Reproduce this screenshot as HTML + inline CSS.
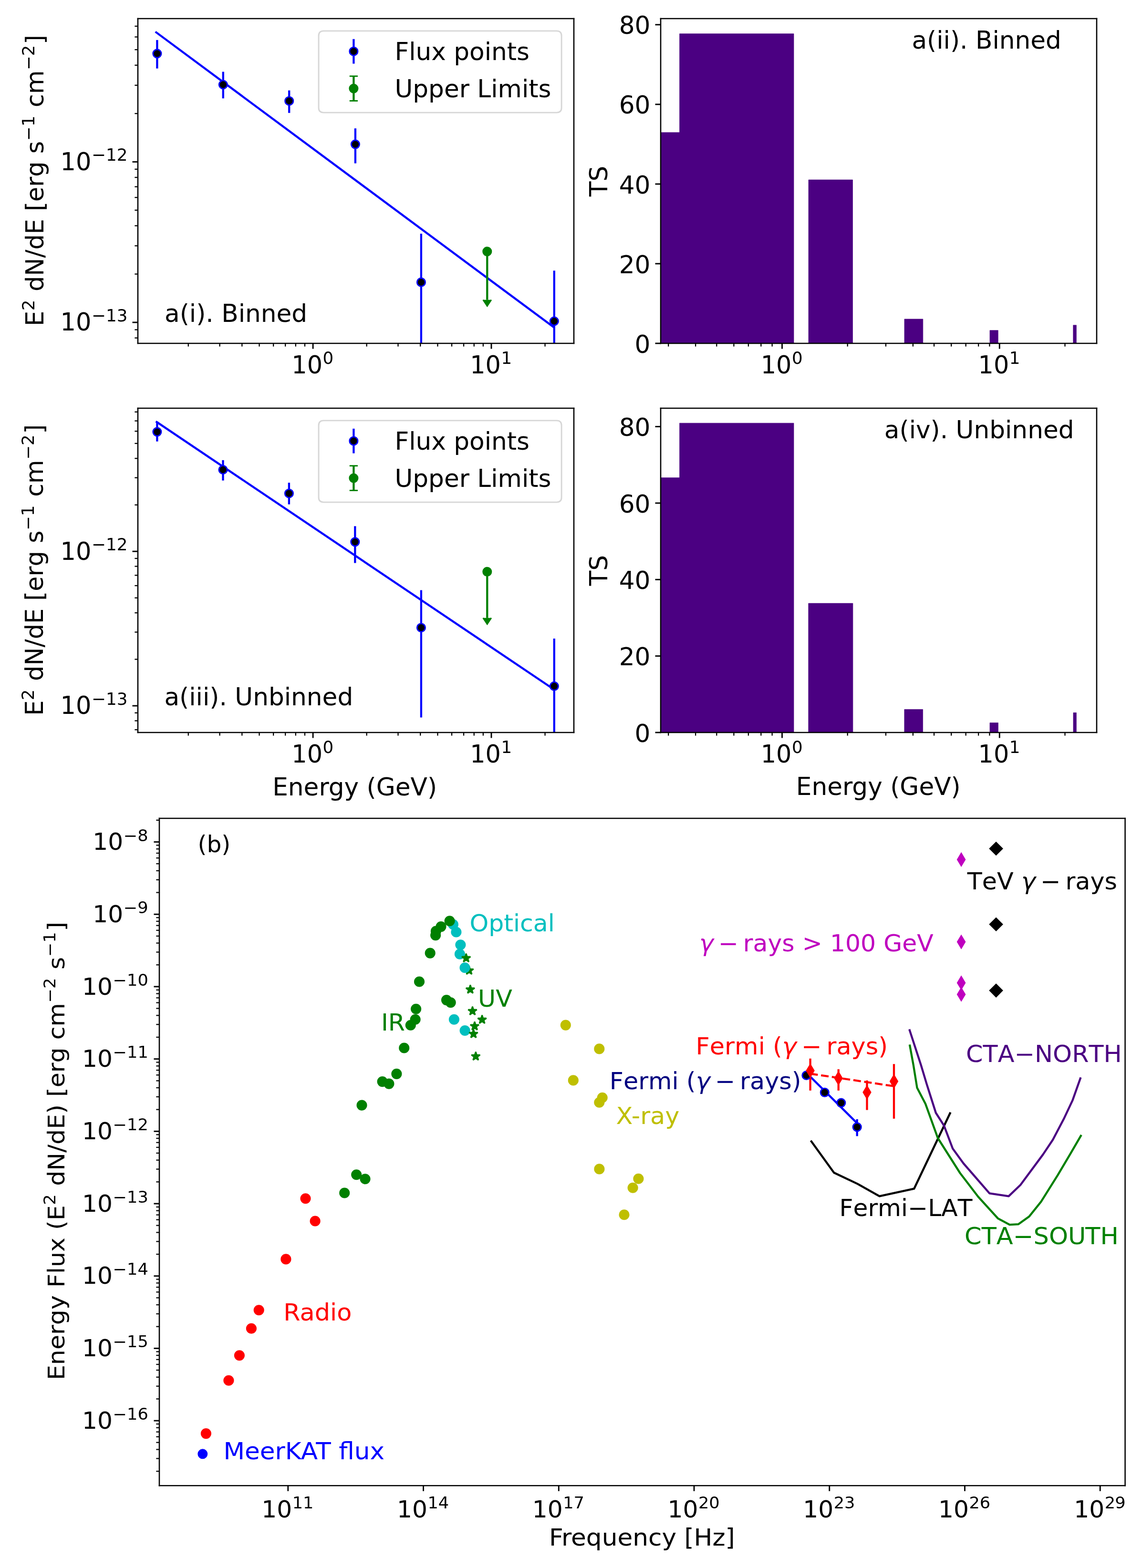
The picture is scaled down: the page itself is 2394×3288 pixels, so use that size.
<!DOCTYPE html>
<html><head><meta charset="utf-8"><title>SED figure</title>
<style>
html,body{margin:0;padding:0;background:#fff;}
body{width:2394px;height:3288px;overflow:hidden;}
svg{display:block;}
svg text{font-family:"DejaVu Sans",sans-serif;}
</style></head><body>
<svg width="2394" height="3288" viewBox="0 0 833.56546 1144.846797" version="1.1">
<defs>
<style type="text/css">*{stroke-linejoin: round; stroke-linecap: butt}</style>
</defs>
<g id="figure_1">
<g id="patch_1">
<path d="M 0 1144.846797 L 833.56546 1144.846797 L 833.56546 0 L 0 0 z
" style="fill: #ffffff"/>
</g>
<g id="axes_1">
<g id="patch_2">
<path d="M 100.626741 250.696379 L 418.871866 250.696379 L 418.871866 13.579387 L 100.626741 13.579387 z
" style="fill: #ffffff"/>
</g>
<g id="matplotlib.axis_1">
<g id="xtick_1">
<g id="line2d_1">
<defs>
<path id="m38d85b45bb" d="M 0 0 L 0 4 " style="stroke: #000000"/>
</defs>
<g>
<use href="#m38d85b45bb" x="228.447075" y="250.696379" style="stroke: #000000"/>
</g>
</g>
<g id="A1x2" transform="translate(228.4471 259.7664) scale(0.985 1) translate(-228.4471 -259.7664)">
<g transform="translate(212.607075 273.443566)">
<text>
<tspan x="0" y="-0.757812" style="font-size: 18px; font-family: 'DejaVu Sans'">1</tspan>
<tspan x="11.452148" y="-0.757812" style="font-size: 18px; font-family: 'DejaVu Sans'">0</tspan>
<tspan x="23.076563" y="-7.648438" style="font-size: 12.6px; font-family: 'DejaVu Sans'">0</tspan>
</text>
</g>
</g>
</g>
<g id="xtick_2">
<g id="line2d_2">
<g>
<use href="#m38d85b45bb" x="358.635097" y="250.696379" style="stroke: #000000"/>
</g>
</g>
<g id="A1x3" transform="translate(358.6351 259.7664) scale(0.985 1) translate(-358.6351 -259.7664)">
<g transform="translate(342.795097 273.443566)">
<text>
<tspan x="0" y="-0.921875" style="font-size: 18px; font-family: 'DejaVu Sans'">1</tspan>
<tspan x="11.452148" y="-0.921875" style="font-size: 18px; font-family: 'DejaVu Sans'">0</tspan>
<tspan x="23.076563" y="-7.8125" style="font-size: 12.6px; font-family: 'DejaVu Sans'">1</tspan>
</text>
</g>
</g>
</g>
<g id="xtick_3">
<g id="line2d_3">
<defs>
<path id="m9a15c4e974" d="M 0 0 L 0 2.3 " style="stroke: #000000; stroke-width: 0.8"/>
</defs>
<g>
<use href="#m9a15c4e974" x="137.449553" y="250.696379" style="stroke: #000000; stroke-width: 0.8"/>
</g>
</g>
</g>
<g id="xtick_4">
<g id="line2d_4">
<g>
<use href="#m9a15c4e974" x="160.374525" y="250.696379" style="stroke: #000000; stroke-width: 0.8"/>
</g>
</g>
</g>
<g id="xtick_5">
<g id="line2d_5">
<g>
<use href="#m9a15c4e974" x="176.640052" y="250.696379" style="stroke: #000000; stroke-width: 0.8"/>
</g>
</g>
</g>
<g id="xtick_6">
<g id="line2d_6">
<g>
<use href="#m9a15c4e974" x="189.256575" y="250.696379" style="stroke: #000000; stroke-width: 0.8"/>
</g>
</g>
</g>
<g id="xtick_7">
<g id="line2d_7">
<g>
<use href="#m9a15c4e974" x="199.565025" y="250.696379" style="stroke: #000000; stroke-width: 0.8"/>
</g>
</g>
</g>
<g id="xtick_8">
<g id="line2d_8">
<g>
<use href="#m9a15c4e974" x="208.280695" y="250.696379" style="stroke: #000000; stroke-width: 0.8"/>
</g>
</g>
</g>
<g id="xtick_9">
<g id="line2d_9">
<g>
<use href="#m9a15c4e974" x="215.830552" y="250.696379" style="stroke: #000000; stroke-width: 0.8"/>
</g>
</g>
</g>
<g id="xtick_10">
<g id="line2d_10">
<g>
<use href="#m9a15c4e974" x="222.489998" y="250.696379" style="stroke: #000000; stroke-width: 0.8"/>
</g>
</g>
</g>
<g id="xtick_11">
<g id="line2d_11">
<g>
<use href="#m9a15c4e974" x="267.637575" y="250.696379" style="stroke: #000000; stroke-width: 0.8"/>
</g>
</g>
</g>
<g id="xtick_12">
<g id="line2d_12">
<g>
<use href="#m9a15c4e974" x="290.562548" y="250.696379" style="stroke: #000000; stroke-width: 0.8"/>
</g>
</g>
</g>
<g id="xtick_13">
<g id="line2d_13">
<g>
<use href="#m9a15c4e974" x="306.828075" y="250.696379" style="stroke: #000000; stroke-width: 0.8"/>
</g>
</g>
</g>
<g id="xtick_14">
<g id="line2d_14">
<g>
<use href="#m9a15c4e974" x="319.444598" y="250.696379" style="stroke: #000000; stroke-width: 0.8"/>
</g>
</g>
</g>
<g id="xtick_15">
<g id="line2d_15">
<g>
<use href="#m9a15c4e974" x="329.753048" y="250.696379" style="stroke: #000000; stroke-width: 0.8"/>
</g>
</g>
</g>
<g id="xtick_16">
<g id="line2d_16">
<g>
<use href="#m9a15c4e974" x="338.468718" y="250.696379" style="stroke: #000000; stroke-width: 0.8"/>
</g>
</g>
</g>
<g id="xtick_17">
<g id="line2d_17">
<g>
<use href="#m9a15c4e974" x="346.018575" y="250.696379" style="stroke: #000000; stroke-width: 0.8"/>
</g>
</g>
</g>
<g id="xtick_18">
<g id="line2d_18">
<g>
<use href="#m9a15c4e974" x="352.67802" y="250.696379" style="stroke: #000000; stroke-width: 0.8"/>
</g>
</g>
</g>
<g id="xtick_19">
<g id="line2d_19">
<g>
<use href="#m9a15c4e974" x="397.825597" y="250.696379" style="stroke: #000000; stroke-width: 0.8"/>
</g>
</g>
</g>
</g>
<g id="matplotlib.axis_2">
<g id="ytick_1">
<g id="line2d_20">
<defs>
<path id="mb89d10049e" d="M 0 0 L -4 0 " style="stroke: #000000"/>
</defs>
<g>
<use href="#mb89d10049e" x="100.626741" y="235.376045" style="stroke: #000000"/>
</g>
</g>
<g id="A1y2" transform="translate(93.6467 237.2478) scale(0.987 1) translate(-93.6467 -237.2478)">
<g transform="translate(43.426741 242.214638)">
<text>
<tspan x="0" y="-0.757812" style="font-size: 18px; font-family: 'DejaVu Sans'">1</tspan>
<tspan x="11.452148" y="-0.757812" style="font-size: 18px; font-family: 'DejaVu Sans'">0</tspan>
<tspan x="23.076563" y="-7.648438" style="font-size: 12.6px; font-family: 'DejaVu Sans'">−</tspan>
<tspan x="33.633984" y="-7.648438" style="font-size: 12.6px; font-family: 'DejaVu Sans'">1</tspan>
<tspan x="41.650488" y="-7.648438" style="font-size: 12.6px; font-family: 'DejaVu Sans'">3</tspan>
</text>
</g>
</g>
</g>
<g id="ytick_2">
<g id="line2d_21">
<g>
<use href="#mb89d10049e" x="100.626741" y="118.175487" style="stroke: #000000"/>
</g>
</g>
<g id="A1y3" transform="translate(93.6467 120.0472) scale(0.987 1) translate(-93.6467 -120.0472)">
<g transform="translate(43.426741 125.014081)">
<text>
<tspan x="0" y="-0.757812" style="font-size: 18px; font-family: 'DejaVu Sans'">1</tspan>
<tspan x="11.452148" y="-0.757812" style="font-size: 18px; font-family: 'DejaVu Sans'">0</tspan>
<tspan x="23.076563" y="-7.648438" style="font-size: 12.6px; font-family: 'DejaVu Sans'">−</tspan>
<tspan x="33.633984" y="-7.648438" style="font-size: 12.6px; font-family: 'DejaVu Sans'">1</tspan>
<tspan x="41.650488" y="-7.648438" style="font-size: 12.6px; font-family: 'DejaVu Sans'">2</tspan>
</text>
</g>
</g>
</g>
<g id="ytick_3">
<g id="line2d_22">
<defs>
<path id="m31b53ba5bc" d="M 0 0 L -2.3 0 " style="stroke: #000000; stroke-width: 0.8"/>
</defs>
<g>
<use href="#m31b53ba5bc" x="100.626741" y="246.733952" style="stroke: #000000; stroke-width: 0.8"/>
</g>
</g>
</g>
<g id="ytick_4">
<g id="line2d_23">
<g>
<use href="#m31b53ba5bc" x="100.626741" y="240.738848" style="stroke: #000000; stroke-width: 0.8"/>
</g>
</g>
</g>
<g id="ytick_5">
<g id="line2d_24">
<g>
<use href="#m31b53ba5bc" x="100.626741" y="200.095161" style="stroke: #000000; stroke-width: 0.8"/>
</g>
</g>
</g>
<g id="ytick_6">
<g id="line2d_25">
<g>
<use href="#m31b53ba5bc" x="100.626741" y="179.457168" style="stroke: #000000; stroke-width: 0.8"/>
</g>
</g>
</g>
<g id="ytick_7">
<g id="line2d_26">
<g>
<use href="#m31b53ba5bc" x="100.626741" y="164.814278" style="stroke: #000000; stroke-width: 0.8"/>
</g>
</g>
</g>
<g id="ytick_8">
<g id="line2d_27">
<g>
<use href="#m31b53ba5bc" x="100.626741" y="153.456371" style="stroke: #000000; stroke-width: 0.8"/>
</g>
</g>
</g>
<g id="ytick_9">
<g id="line2d_28">
<g>
<use href="#m31b53ba5bc" x="100.626741" y="144.176285" style="stroke: #000000; stroke-width: 0.8"/>
</g>
</g>
</g>
<g id="ytick_10">
<g id="line2d_29">
<g>
<use href="#m31b53ba5bc" x="100.626741" y="136.330083" style="stroke: #000000; stroke-width: 0.8"/>
</g>
</g>
</g>
<g id="ytick_11">
<g id="line2d_30">
<g>
<use href="#m31b53ba5bc" x="100.626741" y="129.533395" style="stroke: #000000; stroke-width: 0.8"/>
</g>
</g>
</g>
<g id="ytick_12">
<g id="line2d_31">
<g>
<use href="#m31b53ba5bc" x="100.626741" y="123.538291" style="stroke: #000000; stroke-width: 0.8"/>
</g>
</g>
</g>
<g id="ytick_13">
<g id="line2d_32">
<g>
<use href="#m31b53ba5bc" x="100.626741" y="82.894604" style="stroke: #000000; stroke-width: 0.8"/>
</g>
</g>
</g>
<g id="ytick_14">
<g id="line2d_33">
<g>
<use href="#m31b53ba5bc" x="100.626741" y="62.256611" style="stroke: #000000; stroke-width: 0.8"/>
</g>
</g>
</g>
<g id="ytick_15">
<g id="line2d_34">
<g>
<use href="#m31b53ba5bc" x="100.626741" y="47.613721" style="stroke: #000000; stroke-width: 0.8"/>
</g>
</g>
</g>
<g id="ytick_16">
<g id="line2d_35">
<g>
<use href="#m31b53ba5bc" x="100.626741" y="36.255814" style="stroke: #000000; stroke-width: 0.8"/>
</g>
</g>
</g>
<g id="ytick_17">
<g id="line2d_36">
<g>
<use href="#m31b53ba5bc" x="100.626741" y="26.975727" style="stroke: #000000; stroke-width: 0.8"/>
</g>
</g>
</g>
<g id="ytick_18">
<g id="line2d_37">
<g>
<use href="#m31b53ba5bc" x="100.626741" y="19.129526" style="stroke: #000000; stroke-width: 0.8"/>
</g>
</g>
</g>
</g>
<g id="line2d_38">
<path d="M 114.032033 23.642061 L 404.004178 238.788301 " clip-path="url(#p60db7b7a0c)" style="fill: none; stroke: #0000ff; stroke-width: 1.5; stroke-linecap: square"/>
</g>
<g id="LineCollection_1">
<path d="M 114.693593 50 L 114.693593 29.213092 " clip-path="url(#p60db7b7a0c)" style="fill: none; stroke: #0000ff; stroke-width: 1.5"/>
<path d="M 162.883008 71.831476 L 162.883008 52.402507 " clip-path="url(#p60db7b7a0c)" style="fill: none; stroke: #0000ff; stroke-width: 1.5"/>
<path d="M 211.072423 82.451253 L 211.072423 66.016713 " clip-path="url(#p60db7b7a0c)" style="fill: none; stroke: #0000ff; stroke-width: 1.5"/>
<path d="M 259.366295 119.254875 L 259.366295 93.732591 " clip-path="url(#p60db7b7a0c)" style="fill: none; stroke: #0000ff; stroke-width: 1.5"/>
<path d="M 307.416435 1145.846797 L 307.416435 170.612813 " clip-path="url(#p60db7b7a0c)" style="fill: none; stroke: #0000ff; stroke-width: 1.5"/>
<path d="M 404.526462 1145.846797 L 404.526462 197.597493 " clip-path="url(#p60db7b7a0c)" style="fill: none; stroke: #0000ff; stroke-width: 1.5"/>
</g>
<g id="LineCollection_2">
<path d="M 355.60585 218.906685 L 355.60585 183.635097 " clip-path="url(#p60db7b7a0c)" style="fill: none; stroke: #008000; stroke-width: 1.5"/>
</g>
<g id="line2d_39">
<defs>
<path id="m8b561483a8" d="M -3 0 L 0 4.5 L 3 0 " style="stroke: #008000; stroke-linejoin: miter"/>
</defs>
<g clip-path="url(#p60db7b7a0c)">
<use href="#m8b561483a8" x="355.60585" y="218.906685" style="fill: #008000; stroke: #008000; stroke-linejoin: miter"/>
</g>
</g>
<g id="line2d_40">
<defs>
<path id="m66f33df991" d="M 3 0 L -3 -0 " style="stroke: #008000"/>
</defs>
<g clip-path="url(#p60db7b7a0c)">
<use href="#m66f33df991" x="355.60585" y="183.635097" style="fill: #008000; stroke: #008000"/>
</g>
</g>
<g id="line2d_41">
<defs>
<path id="m3a547c31ff" d="M 0 3 C 0.795609 3 1.55874 2.683901 2.12132 2.12132 C 2.683901 1.55874 3 0.795609 3 0 C 3 -0.795609 2.683901 -1.55874 2.12132 -2.12132 C 1.55874 -2.683901 0.795609 -3 0 -3 C -0.795609 -3 -1.55874 -2.683901 -2.12132 -2.12132 C -2.683901 -1.55874 -3 -0.795609 -3 0 C -3 0.795609 -2.683901 1.55874 -2.12132 2.12132 C -1.55874 2.683901 -0.795609 3 0 3 z
" style="stroke: #0000ff"/>
</defs>
<g clip-path="url(#p60db7b7a0c)">
<use href="#m3a547c31ff" x="114.693593" y="39.13649" style="stroke: #0000ff"/>
<use href="#m3a547c31ff" x="162.883008" y="61.803621" style="stroke: #0000ff"/>
<use href="#m3a547c31ff" x="211.072423" y="73.711699" style="stroke: #0000ff"/>
<use href="#m3a547c31ff" x="259.366295" y="105.362117" style="stroke: #0000ff"/>
<use href="#m3a547c31ff" x="307.416435" y="206.093315" style="stroke: #0000ff"/>
<use href="#m3a547c31ff" x="404.526462" y="234.505571" style="stroke: #0000ff"/>
</g>
</g>
<g id="line2d_42">
<defs>
<path id="maef9e21243" d="M 0 3 C 0.795609 3 1.55874 2.683901 2.12132 2.12132 C 2.683901 1.55874 3 0.795609 3 0 C 3 -0.795609 2.683901 -1.55874 2.12132 -2.12132 C 1.55874 -2.683901 0.795609 -3 0 -3 C -0.795609 -3 -1.55874 -2.683901 -2.12132 -2.12132 C -2.683901 -1.55874 -3 -0.795609 -3 0 C -3 0.795609 -2.683901 1.55874 -2.12132 2.12132 C -1.55874 2.683901 -0.795609 3 0 3 z
" style="stroke: #008000"/>
</defs>
<g clip-path="url(#p60db7b7a0c)">
<use href="#maef9e21243" x="355.60585" y="183.635097" style="fill: #008000; stroke: #008000"/>
</g>
</g>
<g id="patch_3">
<path d="M 100.626741 250.696379 L 100.626741 13.579387 " style="fill: none; stroke: #000000; stroke-width: 0.9; stroke-linejoin: miter; stroke-linecap: square"/>
</g>
<g id="patch_4">
<path d="M 418.871866 250.696379 L 418.871866 13.579387 " style="fill: none; stroke: #000000; stroke-width: 0.9; stroke-linejoin: miter; stroke-linecap: square"/>
</g>
<g id="patch_5">
<path d="M 100.626741 250.696379 L 418.871866 250.696379 " style="fill: none; stroke: #000000; stroke-width: 0.9; stroke-linejoin: miter; stroke-linecap: square"/>
</g>
<g id="patch_6">
<path d="M 100.626741 13.579387 L 418.871866 13.579387 " style="fill: none; stroke: #000000; stroke-width: 0.9; stroke-linejoin: miter; stroke-linecap: square"/>
</g>
<g id="legend_1">
<g id="patch_7">
<path d="M 236.196616 82.206637 L 406.271866 82.206637 Q 409.871866 82.206637 409.871866 78.606637 L 409.871866 26.179387 Q 409.871866 22.579387 406.271866 22.579387 L 236.196616 22.579387 Q 232.596616 22.579387 232.596616 26.179387 L 232.596616 78.606637 Q 232.596616 82.206637 236.196616 82.206637 z
" style="fill: #ffffff; opacity: 0.8; stroke: #cccccc; stroke-linejoin: miter"/>
</g>
<g id="LineCollection_3">
<path d="M 258.138616 46.498575 L 258.138616 28.498575 " style="fill: none; stroke: #0000ff; stroke-width: 1.5"/>
</g>
<g id="line2d_43"/>
<g id="line2d_44">
<g>
<use href="#m3a547c31ff" x="258.138616" y="37.498575" style="stroke: #0000ff"/>
</g>
</g>
<g id="text_1">
<text style="font-size: 18px; font-family: 'DejaVu Sans'; text-anchor: start" x="288.108616" y="43.798575" transform="rotate(-0 288.108616 43.798575)">Flux points</text>
</g>
<g id="LineCollection_4">
<path d="M 258.138616 73.6212 L 258.138616 55.6212 " style="fill: none; stroke: #008000; stroke-width: 1.5"/>
</g>
<g id="line2d_45">
<g>
<use href="#m66f33df991" x="258.138616" y="73.6212" style="fill: #008000; stroke: #008000"/>
</g>
</g>
<g id="line2d_46">
<g>
<use href="#m66f33df991" x="258.138616" y="55.6212" style="fill: #008000; stroke: #008000"/>
</g>
</g>
<g id="line2d_47"/>
<g id="line2d_48">
<g>
<use href="#maef9e21243" x="258.138616" y="64.6212" style="fill: #008000; stroke: #008000"/>
</g>
</g>
<g id="text_2">
<text style="font-size: 18px; font-family: 'DejaVu Sans'; text-anchor: start" x="288.108616" y="70.9212" transform="rotate(-0 288.108616 70.9212)">Upper Limits</text>
</g>
</g>
</g>
<g id="axes_2">
<g id="patch_8">
<path d="M 100.626741 534.818942 L 418.871866 534.818942 L 418.871866 298.050139 L 100.626741 298.050139 z
" style="fill: #ffffff"/>
</g>
<g id="matplotlib.axis_3">
<g id="xtick_20">
<g id="line2d_49">
<g>
<use href="#m38d85b45bb" x="228.447075" y="534.818942" style="stroke: #000000"/>
</g>
</g>
<g id="A3x2" transform="translate(228.4471 543.8889) scale(0.985 1) translate(-228.4471 -543.8889)">
<g transform="translate(212.607075 557.566129)">
<text>
<tspan x="0" y="-0.757812" style="font-size: 18px; font-family: 'DejaVu Sans'">1</tspan>
<tspan x="11.452148" y="-0.757812" style="font-size: 18px; font-family: 'DejaVu Sans'">0</tspan>
<tspan x="23.076563" y="-7.648438" style="font-size: 12.6px; font-family: 'DejaVu Sans'">0</tspan>
</text>
</g>
</g>
</g>
<g id="xtick_21">
<g id="line2d_50">
<g>
<use href="#m38d85b45bb" x="358.635097" y="534.818942" style="stroke: #000000"/>
</g>
</g>
<g id="A3x3" transform="translate(358.6351 543.8889) scale(0.985 1) translate(-358.6351 -543.8889)">
<g transform="translate(342.795097 557.566129)">
<text>
<tspan x="0" y="-0.921875" style="font-size: 18px; font-family: 'DejaVu Sans'">1</tspan>
<tspan x="11.452148" y="-0.921875" style="font-size: 18px; font-family: 'DejaVu Sans'">0</tspan>
<tspan x="23.076563" y="-7.8125" style="font-size: 12.6px; font-family: 'DejaVu Sans'">1</tspan>
</text>
</g>
</g>
</g>
<g id="xtick_22">
<g id="line2d_51">
<g>
<use href="#m9a15c4e974" x="137.449553" y="534.818942" style="stroke: #000000; stroke-width: 0.8"/>
</g>
</g>
</g>
<g id="xtick_23">
<g id="line2d_52">
<g>
<use href="#m9a15c4e974" x="160.374525" y="534.818942" style="stroke: #000000; stroke-width: 0.8"/>
</g>
</g>
</g>
<g id="xtick_24">
<g id="line2d_53">
<g>
<use href="#m9a15c4e974" x="176.640052" y="534.818942" style="stroke: #000000; stroke-width: 0.8"/>
</g>
</g>
</g>
<g id="xtick_25">
<g id="line2d_54">
<g>
<use href="#m9a15c4e974" x="189.256575" y="534.818942" style="stroke: #000000; stroke-width: 0.8"/>
</g>
</g>
</g>
<g id="xtick_26">
<g id="line2d_55">
<g>
<use href="#m9a15c4e974" x="199.565025" y="534.818942" style="stroke: #000000; stroke-width: 0.8"/>
</g>
</g>
</g>
<g id="xtick_27">
<g id="line2d_56">
<g>
<use href="#m9a15c4e974" x="208.280695" y="534.818942" style="stroke: #000000; stroke-width: 0.8"/>
</g>
</g>
</g>
<g id="xtick_28">
<g id="line2d_57">
<g>
<use href="#m9a15c4e974" x="215.830552" y="534.818942" style="stroke: #000000; stroke-width: 0.8"/>
</g>
</g>
</g>
<g id="xtick_29">
<g id="line2d_58">
<g>
<use href="#m9a15c4e974" x="222.489998" y="534.818942" style="stroke: #000000; stroke-width: 0.8"/>
</g>
</g>
</g>
<g id="xtick_30">
<g id="line2d_59">
<g>
<use href="#m9a15c4e974" x="267.637575" y="534.818942" style="stroke: #000000; stroke-width: 0.8"/>
</g>
</g>
</g>
<g id="xtick_31">
<g id="line2d_60">
<g>
<use href="#m9a15c4e974" x="290.562548" y="534.818942" style="stroke: #000000; stroke-width: 0.8"/>
</g>
</g>
</g>
<g id="xtick_32">
<g id="line2d_61">
<g>
<use href="#m9a15c4e974" x="306.828075" y="534.818942" style="stroke: #000000; stroke-width: 0.8"/>
</g>
</g>
</g>
<g id="xtick_33">
<g id="line2d_62">
<g>
<use href="#m9a15c4e974" x="319.444598" y="534.818942" style="stroke: #000000; stroke-width: 0.8"/>
</g>
</g>
</g>
<g id="xtick_34">
<g id="line2d_63">
<g>
<use href="#m9a15c4e974" x="329.753048" y="534.818942" style="stroke: #000000; stroke-width: 0.8"/>
</g>
</g>
</g>
<g id="xtick_35">
<g id="line2d_64">
<g>
<use href="#m9a15c4e974" x="338.468718" y="534.818942" style="stroke: #000000; stroke-width: 0.8"/>
</g>
</g>
</g>
<g id="xtick_36">
<g id="line2d_65">
<g>
<use href="#m9a15c4e974" x="346.018575" y="534.818942" style="stroke: #000000; stroke-width: 0.8"/>
</g>
</g>
</g>
<g id="xtick_37">
<g id="line2d_66">
<g>
<use href="#m9a15c4e974" x="352.67802" y="534.818942" style="stroke: #000000; stroke-width: 0.8"/>
</g>
</g>
</g>
<g id="xtick_38">
<g id="line2d_67">
<g>
<use href="#m9a15c4e974" x="397.825597" y="534.818942" style="stroke: #000000; stroke-width: 0.8"/>
</g>
</g>
</g>
</g>
<g id="matplotlib.axis_4">
<g id="ytick_19">
<g id="line2d_68">
<g>
<use href="#mb89d10049e" x="100.626741" y="515.320334" style="stroke: #000000"/>
</g>
</g>
<g id="A3y2" transform="translate(93.6467 517.1921) scale(0.987 1) translate(-93.6467 -517.1921)">
<g transform="translate(43.426741 522.158928)">
<text>
<tspan x="0" y="-0.757812" style="font-size: 18px; font-family: 'DejaVu Sans'">1</tspan>
<tspan x="11.452148" y="-0.757812" style="font-size: 18px; font-family: 'DejaVu Sans'">0</tspan>
<tspan x="23.076563" y="-7.648438" style="font-size: 12.6px; font-family: 'DejaVu Sans'">−</tspan>
<tspan x="33.633984" y="-7.648438" style="font-size: 12.6px; font-family: 'DejaVu Sans'">1</tspan>
<tspan x="41.650488" y="-7.648438" style="font-size: 12.6px; font-family: 'DejaVu Sans'">3</tspan>
</text>
</g>
</g>
</g>
<g id="ytick_20">
<g id="line2d_69">
<g>
<use href="#mb89d10049e" x="100.626741" y="402.576602" style="stroke: #000000"/>
</g>
</g>
<g id="A3y3" transform="translate(93.6467 404.4483) scale(0.987 1) translate(-93.6467 -404.4483)">
<g transform="translate(43.426741 409.415195)">
<text>
<tspan x="0" y="-0.757812" style="font-size: 18px; font-family: 'DejaVu Sans'">1</tspan>
<tspan x="11.452148" y="-0.757812" style="font-size: 18px; font-family: 'DejaVu Sans'">0</tspan>
<tspan x="23.076563" y="-7.648438" style="font-size: 12.6px; font-family: 'DejaVu Sans'">−</tspan>
<tspan x="33.633984" y="-7.648438" style="font-size: 12.6px; font-family: 'DejaVu Sans'">1</tspan>
<tspan x="41.650488" y="-7.648438" style="font-size: 12.6px; font-family: 'DejaVu Sans'">2</tspan>
</text>
</g>
</g>
</g>
<g id="ytick_21">
<g id="line2d_70">
<g>
<use href="#m31b53ba5bc" x="100.626741" y="532.784559" style="stroke: #000000; stroke-width: 0.8"/>
</g>
</g>
</g>
<g id="ytick_22">
<g id="line2d_71">
<g>
<use href="#m31b53ba5bc" x="100.626741" y="526.246331" style="stroke: #000000; stroke-width: 0.8"/>
</g>
</g>
</g>
<g id="ytick_23">
<g id="line2d_72">
<g>
<use href="#m31b53ba5bc" x="100.626741" y="520.479205" style="stroke: #000000; stroke-width: 0.8"/>
</g>
</g>
</g>
<g id="ytick_24">
<g id="line2d_73">
<g>
<use href="#m31b53ba5bc" x="100.626741" y="481.381089" style="stroke: #000000; stroke-width: 0.8"/>
</g>
</g>
</g>
<g id="ytick_25">
<g id="line2d_74">
<g>
<use href="#m31b53ba5bc" x="100.626741" y="461.527903" style="stroke: #000000; stroke-width: 0.8"/>
</g>
</g>
</g>
<g id="ytick_26">
<g id="line2d_75">
<g>
<use href="#m31b53ba5bc" x="100.626741" y="447.441844" style="stroke: #000000; stroke-width: 0.8"/>
</g>
</g>
</g>
<g id="ytick_27">
<g id="line2d_76">
<g>
<use href="#m31b53ba5bc" x="100.626741" y="436.515847" style="stroke: #000000; stroke-width: 0.8"/>
</g>
</g>
</g>
<g id="ytick_28">
<g id="line2d_77">
<g>
<use href="#m31b53ba5bc" x="100.626741" y="427.588658" style="stroke: #000000; stroke-width: 0.8"/>
</g>
</g>
</g>
<g id="ytick_29">
<g id="line2d_78">
<g>
<use href="#m31b53ba5bc" x="100.626741" y="420.040827" style="stroke: #000000; stroke-width: 0.8"/>
</g>
</g>
</g>
<g id="ytick_30">
<g id="line2d_79">
<g>
<use href="#m31b53ba5bc" x="100.626741" y="413.502598" style="stroke: #000000; stroke-width: 0.8"/>
</g>
</g>
</g>
<g id="ytick_31">
<g id="line2d_80">
<g>
<use href="#m31b53ba5bc" x="100.626741" y="407.735472" style="stroke: #000000; stroke-width: 0.8"/>
</g>
</g>
</g>
<g id="ytick_32">
<g id="line2d_81">
<g>
<use href="#m31b53ba5bc" x="100.626741" y="368.637356" style="stroke: #000000; stroke-width: 0.8"/>
</g>
</g>
</g>
<g id="ytick_33">
<g id="line2d_82">
<g>
<use href="#m31b53ba5bc" x="100.626741" y="348.784171" style="stroke: #000000; stroke-width: 0.8"/>
</g>
</g>
</g>
<g id="ytick_34">
<g id="line2d_83">
<g>
<use href="#m31b53ba5bc" x="100.626741" y="334.698111" style="stroke: #000000; stroke-width: 0.8"/>
</g>
</g>
</g>
<g id="ytick_35">
<g id="line2d_84">
<g>
<use href="#m31b53ba5bc" x="100.626741" y="323.772114" style="stroke: #000000; stroke-width: 0.8"/>
</g>
</g>
</g>
<g id="ytick_36">
<g id="line2d_85">
<g>
<use href="#m31b53ba5bc" x="100.626741" y="314.844925" style="stroke: #000000; stroke-width: 0.8"/>
</g>
</g>
</g>
<g id="ytick_37">
<g id="line2d_86">
<g>
<use href="#m31b53ba5bc" x="100.626741" y="307.297094" style="stroke: #000000; stroke-width: 0.8"/>
</g>
</g>
</g>
<g id="ytick_38">
<g id="line2d_87">
<g>
<use href="#m31b53ba5bc" x="100.626741" y="300.758866" style="stroke: #000000; stroke-width: 0.8"/>
</g>
</g>
</g>
</g>
<g id="line2d_88">
<path d="M 114.380223 308.112813 L 404.004178 503.133705 " clip-path="url(#p26f865728c)" style="fill: none; stroke: #0000ff; stroke-width: 1.5; stroke-linecap: square"/>
</g>
<g id="LineCollection_5">
<path d="M 114.693593 322.318942 L 114.693593 308.008357 " clip-path="url(#p26f865728c)" style="fill: none; stroke: #0000ff; stroke-width: 1.5"/>
<path d="M 162.778552 350.835655 L 162.778552 335.967967 " clip-path="url(#p26f865728c)" style="fill: none; stroke: #0000ff; stroke-width: 1.5"/>
<path d="M 210.967967 368.245125 L 210.967967 352.437326 " clip-path="url(#p26f865728c)" style="fill: none; stroke: #0000ff; stroke-width: 1.5"/>
<path d="M 259.157382 411.072423 L 259.157382 384.157382 " clip-path="url(#p26f865728c)" style="fill: none; stroke: #0000ff; stroke-width: 1.5"/>
<path d="M 307.416435 523.885794 L 307.416435 430.849582 " clip-path="url(#p26f865728c)" style="fill: none; stroke: #0000ff; stroke-width: 1.5"/>
<path d="M 404.526462 1145.846797 L 404.526462 466.225627 " clip-path="url(#p26f865728c)" style="fill: none; stroke: #0000ff; stroke-width: 1.5"/>
</g>
<g id="LineCollection_6">
<path d="M 355.60585 451.183844 L 355.60585 417.409471 " clip-path="url(#p26f865728c)" style="fill: none; stroke: #008000; stroke-width: 1.5"/>
</g>
<g id="line2d_89">
<g clip-path="url(#p26f865728c)">
<use href="#m8b561483a8" x="355.60585" y="451.183844" style="fill: #008000; stroke: #008000; stroke-linejoin: miter"/>
</g>
</g>
<g id="line2d_90">
<g clip-path="url(#p26f865728c)">
<use href="#m66f33df991" x="355.60585" y="417.409471" style="fill: #008000; stroke: #008000"/>
</g>
</g>
<g id="line2d_91">
<g clip-path="url(#p26f865728c)">
<use href="#m3a547c31ff" x="114.693593" y="315.320334" style="stroke: #0000ff"/>
<use href="#m3a547c31ff" x="162.778552" y="342.966574" style="stroke: #0000ff"/>
<use href="#m3a547c31ff" x="210.967967" y="360.271588" style="stroke: #0000ff"/>
<use href="#m3a547c31ff" x="259.157382" y="395.682451" style="stroke: #0000ff"/>
<use href="#m3a547c31ff" x="307.416435" y="458.286908" style="stroke: #0000ff"/>
<use href="#m3a547c31ff" x="404.526462" y="500.97493" style="stroke: #0000ff"/>
</g>
</g>
<g id="line2d_92">
<g clip-path="url(#p26f865728c)">
<use href="#maef9e21243" x="355.60585" y="417.409471" style="fill: #008000; stroke: #008000"/>
</g>
</g>
<g id="patch_9">
<path d="M 100.626741 534.818942 L 100.626741 298.050139 " style="fill: none; stroke: #000000; stroke-width: 0.9; stroke-linejoin: miter; stroke-linecap: square"/>
</g>
<g id="patch_10">
<path d="M 418.871866 534.818942 L 418.871866 298.050139 " style="fill: none; stroke: #000000; stroke-width: 0.9; stroke-linejoin: miter; stroke-linecap: square"/>
</g>
<g id="patch_11">
<path d="M 100.626741 534.818942 L 418.871866 534.818942 " style="fill: none; stroke: #000000; stroke-width: 0.9; stroke-linejoin: miter; stroke-linecap: square"/>
</g>
<g id="patch_12">
<path d="M 100.626741 298.050139 L 418.871866 298.050139 " style="fill: none; stroke: #000000; stroke-width: 0.9; stroke-linejoin: miter; stroke-linecap: square"/>
</g>
<g id="legend_2">
<g id="patch_13">
<path d="M 236.196616 366.677389 L 406.271866 366.677389 Q 409.871866 366.677389 409.871866 363.077389 L 409.871866 310.650139 Q 409.871866 307.050139 406.271866 307.050139 L 236.196616 307.050139 Q 232.596616 307.050139 232.596616 310.650139 L 232.596616 363.077389 Q 232.596616 366.677389 236.196616 366.677389 z
" style="fill: #ffffff; opacity: 0.8; stroke: #cccccc; stroke-linejoin: miter"/>
</g>
<g id="LineCollection_7">
<path d="M 258.138616 330.969327 L 258.138616 312.969327 " style="fill: none; stroke: #0000ff; stroke-width: 1.5"/>
</g>
<g id="line2d_93"/>
<g id="line2d_94">
<g>
<use href="#m3a547c31ff" x="258.138616" y="321.969327" style="stroke: #0000ff"/>
</g>
</g>
<g id="text_3">
<text style="font-size: 18px; font-family: 'DejaVu Sans'; text-anchor: start" x="288.108616" y="328.269327" transform="rotate(-0 288.108616 328.269327)">Flux points</text>
</g>
<g id="LineCollection_8">
<path d="M 258.138616 358.091952 L 258.138616 340.091952 " style="fill: none; stroke: #008000; stroke-width: 1.5"/>
</g>
<g id="line2d_95">
<g>
<use href="#m66f33df991" x="258.138616" y="358.091952" style="fill: #008000; stroke: #008000"/>
</g>
</g>
<g id="line2d_96">
<g>
<use href="#m66f33df991" x="258.138616" y="340.091952" style="fill: #008000; stroke: #008000"/>
</g>
</g>
<g id="line2d_97"/>
<g id="line2d_98">
<g>
<use href="#maef9e21243" x="258.138616" y="349.091952" style="fill: #008000; stroke: #008000"/>
</g>
</g>
<g id="text_4">
<text style="font-size: 18px; font-family: 'DejaVu Sans'; text-anchor: start" x="288.108616" y="355.391952" transform="rotate(-0 288.108616 355.391952)">Upper Limits</text>
</g>
</g>
</g>
<g id="axes_3">
<g id="patch_14">
<path d="M 482.24234 250.696379 L 800.487465 250.696379 L 800.487465 13.579387 L 482.24234 13.579387 z
" style="fill: #ffffff"/>
</g>
<g id="patch_15">
<path d="M 452.64624 250.696379 L 496.692201 250.696379 L 496.692201 96.727019 L 452.64624 96.727019 z
" clip-path="url(#p133f93583e)" style="fill: #4b0082; stroke: #4b0082; stroke-width: 0.25; stroke-linejoin: miter"/>
</g>
<g id="patch_16">
<path d="M 496.030641 250.696379 L 579.387187 250.696379 L 579.387187 24.616992 L 496.030641 24.616992 z
" clip-path="url(#p133f93583e)" style="fill: #4b0082; stroke: #4b0082; stroke-width: 0.25; stroke-linejoin: miter"/>
</g>
<g id="patch_17">
<path d="M 590.181058 250.696379 L 622.388579 250.696379 L 622.388579 131.267409 L 590.181058 131.267409 z
" clip-path="url(#p133f93583e)" style="fill: #4b0082; stroke: #4b0082; stroke-width: 0.25; stroke-linejoin: miter"/>
</g>
<g id="patch_18">
<path d="M 660.167131 250.696379 L 673.67688 250.696379 L 673.67688 232.938719 L 660.167131 232.938719 z
" clip-path="url(#p133f93583e)" style="fill: #4b0082; stroke: #4b0082; stroke-width: 0.25; stroke-linejoin: miter"/>
</g>
<g id="patch_19">
<path d="M 722.493036 250.696379 L 728.516713 250.696379 L 728.516713 241.190808 L 722.493036 241.190808 z
" clip-path="url(#p133f93583e)" style="fill: #4b0082; stroke: #4b0082; stroke-width: 0.25; stroke-linejoin: miter"/>
</g>
<g id="patch_20">
<path d="M 783.356546 250.696379 L 785.654596 250.696379 L 785.654596 237.395543 L 783.356546 237.395543 z
" clip-path="url(#p133f93583e)" style="fill: #4b0082; stroke: #4b0082; stroke-width: 0.25; stroke-linejoin: miter"/>
</g>
<g id="matplotlib.axis_5">
<g id="xtick_39">
<g id="line2d_99">
<g>
<use href="#m38d85b45bb" x="570.856546" y="250.696379" style="stroke: #000000"/>
</g>
</g>
<g id="A2x2" transform="translate(570.8565 259.7664) scale(0.985 1) translate(-570.8565 -259.7664)">
<g transform="translate(555.016546 273.443566)">
<text>
<tspan x="0" y="-0.757812" style="font-size: 18px; font-family: 'DejaVu Sans'">1</tspan>
<tspan x="11.452148" y="-0.757812" style="font-size: 18px; font-family: 'DejaVu Sans'">0</tspan>
<tspan x="23.076563" y="-7.648438" style="font-size: 12.6px; font-family: 'DejaVu Sans'">0</tspan>
</text>
</g>
</g>
</g>
<g id="xtick_40">
<g id="line2d_100">
<g>
<use href="#m38d85b45bb" x="729.561281" y="250.696379" style="stroke: #000000"/>
</g>
</g>
<g id="A2x3" transform="translate(729.5613 259.7664) scale(0.985 1) translate(-729.5613 -259.7664)">
<g transform="translate(713.721281 273.443566)">
<text>
<tspan x="0" y="-0.921875" style="font-size: 18px; font-family: 'DejaVu Sans'">1</tspan>
<tspan x="11.452148" y="-0.921875" style="font-size: 18px; font-family: 'DejaVu Sans'">0</tspan>
<tspan x="23.076563" y="-7.8125" style="font-size: 12.6px; font-family: 'DejaVu Sans'">1</tspan>
</text>
</g>
</g>
</g>
<g id="xtick_41">
<g id="line2d_101">
<g>
<use href="#m9a15c4e974" x="487.873213" y="250.696379" style="stroke: #000000; stroke-width: 0.8"/>
</g>
</g>
</g>
<g id="xtick_42">
<g id="line2d_102">
<g>
<use href="#m9a15c4e974" x="507.701582" y="250.696379" style="stroke: #000000; stroke-width: 0.8"/>
</g>
</g>
</g>
<g id="xtick_43">
<g id="line2d_103">
<g>
<use href="#m9a15c4e974" x="523.08166" y="250.696379" style="stroke: #000000; stroke-width: 0.8"/>
</g>
</g>
</g>
<g id="xtick_44">
<g id="line2d_104">
<g>
<use href="#m9a15c4e974" x="535.648099" y="250.696379" style="stroke: #000000; stroke-width: 0.8"/>
</g>
</g>
</g>
<g id="xtick_45">
<g id="line2d_105">
<g>
<use href="#m9a15c4e974" x="546.272871" y="250.696379" style="stroke: #000000; stroke-width: 0.8"/>
</g>
</g>
</g>
<g id="xtick_46">
<g id="line2d_106">
<g>
<use href="#m9a15c4e974" x="555.476468" y="250.696379" style="stroke: #000000; stroke-width: 0.8"/>
</g>
</g>
</g>
<g id="xtick_47">
<g id="line2d_107">
<g>
<use href="#m9a15c4e974" x="563.594616" y="250.696379" style="stroke: #000000; stroke-width: 0.8"/>
</g>
</g>
</g>
<g id="xtick_48">
<g id="line2d_108">
<g>
<use href="#m9a15c4e974" x="618.631432" y="250.696379" style="stroke: #000000; stroke-width: 0.8"/>
</g>
</g>
</g>
<g id="xtick_49">
<g id="line2d_109">
<g>
<use href="#m9a15c4e974" x="646.577948" y="250.696379" style="stroke: #000000; stroke-width: 0.8"/>
</g>
</g>
</g>
<g id="xtick_50">
<g id="line2d_110">
<g>
<use href="#m9a15c4e974" x="666.406318" y="250.696379" style="stroke: #000000; stroke-width: 0.8"/>
</g>
</g>
</g>
<g id="xtick_51">
<g id="line2d_111">
<g>
<use href="#m9a15c4e974" x="681.786396" y="250.696379" style="stroke: #000000; stroke-width: 0.8"/>
</g>
</g>
</g>
<g id="xtick_52">
<g id="line2d_112">
<g>
<use href="#m9a15c4e974" x="694.352834" y="250.696379" style="stroke: #000000; stroke-width: 0.8"/>
</g>
</g>
</g>
<g id="xtick_53">
<g id="line2d_113">
<g>
<use href="#m9a15c4e974" x="704.977607" y="250.696379" style="stroke: #000000; stroke-width: 0.8"/>
</g>
</g>
</g>
<g id="xtick_54">
<g id="line2d_114">
<g>
<use href="#m9a15c4e974" x="714.181203" y="250.696379" style="stroke: #000000; stroke-width: 0.8"/>
</g>
</g>
</g>
<g id="xtick_55">
<g id="line2d_115">
<g>
<use href="#m9a15c4e974" x="722.299351" y="250.696379" style="stroke: #000000; stroke-width: 0.8"/>
</g>
</g>
</g>
<g id="xtick_56">
<g id="line2d_116">
<g>
<use href="#m9a15c4e974" x="777.336167" y="250.696379" style="stroke: #000000; stroke-width: 0.8"/>
</g>
</g>
</g>
</g>
<g id="matplotlib.axis_6">
<g id="ytick_39">
<g id="line2d_117">
<g>
<use href="#mb89d10049e" x="482.24234" y="250.696379" style="stroke: #000000"/>
</g>
</g>
<g id="text_5">
<text style="font-size: 18px; font-family: 'DejaVu Sans'; text-anchor: end" x="474.74234" y="257.534973" transform="rotate(-0 474.74234 257.534973)">0</text>
</g>
</g>
<g id="ytick_40">
<g id="line2d_118">
<g>
<use href="#mb89d10049e" x="482.24234" y="192.531337" style="stroke: #000000"/>
</g>
</g>
<g id="text_6">
<text style="font-size: 18px; font-family: 'DejaVu Sans'; text-anchor: end" x="474.74234" y="199.369931" transform="rotate(-0 474.74234 199.369931)">20</text>
</g>
</g>
<g id="ytick_41">
<g id="line2d_119">
<g>
<use href="#mb89d10049e" x="482.24234" y="134.366295" style="stroke: #000000"/>
</g>
</g>
<g id="text_7">
<text style="font-size: 18px; font-family: 'DejaVu Sans'; text-anchor: end" x="474.74234" y="141.204889" transform="rotate(-0 474.74234 141.204889)">40</text>
</g>
</g>
<g id="ytick_42">
<g id="line2d_120">
<g>
<use href="#mb89d10049e" x="482.24234" y="76.201253" style="stroke: #000000"/>
</g>
</g>
<g id="text_8">
<text style="font-size: 18px; font-family: 'DejaVu Sans'; text-anchor: end" x="474.74234" y="83.039847" transform="rotate(-0 474.74234 83.039847)">60</text>
</g>
</g>
<g id="ytick_43">
<g id="line2d_121">
<g>
<use href="#mb89d10049e" x="482.24234" y="18.036212" style="stroke: #000000"/>
</g>
</g>
<g id="text_9">
<text style="font-size: 18px; font-family: 'DejaVu Sans'; text-anchor: end" x="474.74234" y="24.874805" transform="rotate(-0 474.74234 24.874805)">80</text>
</g>
</g>
</g>
<g id="patch_21">
<path d="M 482.24234 250.696379 L 482.24234 13.579387 " style="fill: none; stroke: #000000; stroke-width: 0.9; stroke-linejoin: miter; stroke-linecap: square"/>
</g>
<g id="patch_22">
<path d="M 800.487465 250.696379 L 800.487465 13.579387 " style="fill: none; stroke: #000000; stroke-width: 0.9; stroke-linejoin: miter; stroke-linecap: square"/>
</g>
<g id="patch_23">
<path d="M 482.24234 250.696379 L 800.487465 250.696379 " style="fill: none; stroke: #000000; stroke-width: 0.9; stroke-linejoin: miter; stroke-linecap: square"/>
</g>
<g id="patch_24">
<path d="M 482.24234 13.579387 L 800.487465 13.579387 " style="fill: none; stroke: #000000; stroke-width: 0.9; stroke-linejoin: miter; stroke-linecap: square"/>
</g>
</g>
<g id="axes_4">
<g id="patch_25">
<path d="M 482.24234 534.818942 L 800.487465 534.818942 L 800.487465 298.050139 L 482.24234 298.050139 z
" style="fill: #ffffff"/>
</g>
<g id="patch_26">
<path d="M 452.64624 534.818942 L 496.692201 534.818942 L 496.692201 348.76642 L 452.64624 348.76642 z
" clip-path="url(#p6a8bd2c7d6)" style="fill: #4b0082; stroke: #4b0082; stroke-width: 0.25; stroke-linejoin: miter"/>
</g>
<g id="patch_27">
<path d="M 496.030641 534.818942 L 579.387187 534.818942 L 579.387187 308.910455 L 496.030641 308.910455 z
" clip-path="url(#p6a8bd2c7d6)" style="fill: #4b0082; stroke: #4b0082; stroke-width: 0.25; stroke-linejoin: miter"/>
</g>
<g id="patch_28">
<path d="M 590.111421 534.818942 L 622.527855 534.818942 L 622.527855 440.487355 L 590.111421 440.487355 z
" clip-path="url(#p6a8bd2c7d6)" style="fill: #4b0082; stroke: #4b0082; stroke-width: 0.25; stroke-linejoin: miter"/>
</g>
<g id="patch_29">
<path d="M 660.132312 534.818942 L 673.607242 534.818942 L 673.607242 517.971529 L 660.132312 517.971529 z
" clip-path="url(#p6a8bd2c7d6)" style="fill: #4b0082; stroke: #4b0082; stroke-width: 0.25; stroke-linejoin: miter"/>
</g>
<g id="patch_30">
<path d="M 722.493036 534.818942 L 728.586351 534.818942 L 728.586351 527.717966 L 722.493036 527.717966 z
" clip-path="url(#p6a8bd2c7d6)" style="fill: #4b0082; stroke: #4b0082; stroke-width: 0.25; stroke-linejoin: miter"/>
</g>
<g id="patch_31">
<path d="M 783.426184 534.818942 L 785.654596 534.818942 L 785.654596 520.338521 L 783.426184 520.338521 z
" clip-path="url(#p6a8bd2c7d6)" style="fill: #4b0082; stroke: #4b0082; stroke-width: 0.25; stroke-linejoin: miter"/>
</g>
<g id="matplotlib.axis_7">
<g id="xtick_57">
<g id="line2d_122">
<g>
<use href="#m38d85b45bb" x="570.856546" y="534.818942" style="stroke: #000000"/>
</g>
</g>
<g id="A4x2" transform="translate(570.8565 543.8889) scale(0.985 1) translate(-570.8565 -543.8889)">
<g transform="translate(555.016546 557.566129)">
<text>
<tspan x="0" y="-0.757812" style="font-size: 18px; font-family: 'DejaVu Sans'">1</tspan>
<tspan x="11.452148" y="-0.757812" style="font-size: 18px; font-family: 'DejaVu Sans'">0</tspan>
<tspan x="23.076563" y="-7.648438" style="font-size: 12.6px; font-family: 'DejaVu Sans'">0</tspan>
</text>
</g>
</g>
</g>
<g id="xtick_58">
<g id="line2d_123">
<g>
<use href="#m38d85b45bb" x="729.561281" y="534.818942" style="stroke: #000000"/>
</g>
</g>
<g id="A4x3" transform="translate(729.5613 543.8889) scale(0.985 1) translate(-729.5613 -543.8889)">
<g transform="translate(713.721281 557.566129)">
<text>
<tspan x="0" y="-0.921875" style="font-size: 18px; font-family: 'DejaVu Sans'">1</tspan>
<tspan x="11.452148" y="-0.921875" style="font-size: 18px; font-family: 'DejaVu Sans'">0</tspan>
<tspan x="23.076563" y="-7.8125" style="font-size: 12.6px; font-family: 'DejaVu Sans'">1</tspan>
</text>
</g>
</g>
</g>
<g id="xtick_59">
<g id="line2d_124">
<g>
<use href="#m9a15c4e974" x="487.873213" y="534.818942" style="stroke: #000000; stroke-width: 0.8"/>
</g>
</g>
</g>
<g id="xtick_60">
<g id="line2d_125">
<g>
<use href="#m9a15c4e974" x="507.701582" y="534.818942" style="stroke: #000000; stroke-width: 0.8"/>
</g>
</g>
</g>
<g id="xtick_61">
<g id="line2d_126">
<g>
<use href="#m9a15c4e974" x="523.08166" y="534.818942" style="stroke: #000000; stroke-width: 0.8"/>
</g>
</g>
</g>
<g id="xtick_62">
<g id="line2d_127">
<g>
<use href="#m9a15c4e974" x="535.648099" y="534.818942" style="stroke: #000000; stroke-width: 0.8"/>
</g>
</g>
</g>
<g id="xtick_63">
<g id="line2d_128">
<g>
<use href="#m9a15c4e974" x="546.272871" y="534.818942" style="stroke: #000000; stroke-width: 0.8"/>
</g>
</g>
</g>
<g id="xtick_64">
<g id="line2d_129">
<g>
<use href="#m9a15c4e974" x="555.476468" y="534.818942" style="stroke: #000000; stroke-width: 0.8"/>
</g>
</g>
</g>
<g id="xtick_65">
<g id="line2d_130">
<g>
<use href="#m9a15c4e974" x="563.594616" y="534.818942" style="stroke: #000000; stroke-width: 0.8"/>
</g>
</g>
</g>
<g id="xtick_66">
<g id="line2d_131">
<g>
<use href="#m9a15c4e974" x="618.631432" y="534.818942" style="stroke: #000000; stroke-width: 0.8"/>
</g>
</g>
</g>
<g id="xtick_67">
<g id="line2d_132">
<g>
<use href="#m9a15c4e974" x="646.577948" y="534.818942" style="stroke: #000000; stroke-width: 0.8"/>
</g>
</g>
</g>
<g id="xtick_68">
<g id="line2d_133">
<g>
<use href="#m9a15c4e974" x="666.406318" y="534.818942" style="stroke: #000000; stroke-width: 0.8"/>
</g>
</g>
</g>
<g id="xtick_69">
<g id="line2d_134">
<g>
<use href="#m9a15c4e974" x="681.786396" y="534.818942" style="stroke: #000000; stroke-width: 0.8"/>
</g>
</g>
</g>
<g id="xtick_70">
<g id="line2d_135">
<g>
<use href="#m9a15c4e974" x="694.352834" y="534.818942" style="stroke: #000000; stroke-width: 0.8"/>
</g>
</g>
</g>
<g id="xtick_71">
<g id="line2d_136">
<g>
<use href="#m9a15c4e974" x="704.977607" y="534.818942" style="stroke: #000000; stroke-width: 0.8"/>
</g>
</g>
</g>
<g id="xtick_72">
<g id="line2d_137">
<g>
<use href="#m9a15c4e974" x="714.181203" y="534.818942" style="stroke: #000000; stroke-width: 0.8"/>
</g>
</g>
</g>
<g id="xtick_73">
<g id="line2d_138">
<g>
<use href="#m9a15c4e974" x="722.299351" y="534.818942" style="stroke: #000000; stroke-width: 0.8"/>
</g>
</g>
</g>
<g id="xtick_74">
<g id="line2d_139">
<g>
<use href="#m9a15c4e974" x="777.336167" y="534.818942" style="stroke: #000000; stroke-width: 0.8"/>
</g>
</g>
</g>
</g>
<g id="matplotlib.axis_8">
<g id="ytick_44">
<g id="line2d_140">
<g>
<use href="#mb89d10049e" x="482.24234" y="534.818942" style="stroke: #000000"/>
</g>
</g>
<g id="text_10">
<text style="font-size: 18px; font-family: 'DejaVu Sans'; text-anchor: end" x="474.74234" y="541.657535" transform="rotate(-0 474.74234 541.657535)">0</text>
</g>
</g>
<g id="ytick_45">
<g id="line2d_141">
<g>
<use href="#mb89d10049e" x="482.24234" y="478.985781" style="stroke: #000000"/>
</g>
</g>
<g id="text_11">
<text style="font-size: 18px; font-family: 'DejaVu Sans'; text-anchor: end" x="474.74234" y="485.824375" transform="rotate(-0 474.74234 485.824375)">20</text>
</g>
</g>
<g id="ytick_46">
<g id="line2d_142">
<g>
<use href="#mb89d10049e" x="482.24234" y="423.15262" style="stroke: #000000"/>
</g>
</g>
<g id="text_12">
<text style="font-size: 18px; font-family: 'DejaVu Sans'; text-anchor: end" x="474.74234" y="429.991214" transform="rotate(-0 474.74234 429.991214)">40</text>
</g>
</g>
<g id="ytick_47">
<g id="line2d_143">
<g>
<use href="#mb89d10049e" x="482.24234" y="367.31946" style="stroke: #000000"/>
</g>
</g>
<g id="text_13">
<text style="font-size: 18px; font-family: 'DejaVu Sans'; text-anchor: end" x="474.74234" y="374.158053" transform="rotate(-0 474.74234 374.158053)">60</text>
</g>
</g>
<g id="ytick_48">
<g id="line2d_144">
<g>
<use href="#mb89d10049e" x="482.24234" y="311.486299" style="stroke: #000000"/>
</g>
</g>
<g id="text_14">
<text style="font-size: 18px; font-family: 'DejaVu Sans'; text-anchor: end" x="474.74234" y="318.324893" transform="rotate(-0 474.74234 318.324893)">80</text>
</g>
</g>
</g>
<g id="patch_32">
<path d="M 482.24234 534.818942 L 482.24234 298.050139 " style="fill: none; stroke: #000000; stroke-width: 0.9; stroke-linejoin: miter; stroke-linecap: square"/>
</g>
<g id="patch_33">
<path d="M 800.487465 534.818942 L 800.487465 298.050139 " style="fill: none; stroke: #000000; stroke-width: 0.9; stroke-linejoin: miter; stroke-linecap: square"/>
</g>
<g id="patch_34">
<path d="M 482.24234 534.818942 L 800.487465 534.818942 " style="fill: none; stroke: #000000; stroke-width: 0.9; stroke-linejoin: miter; stroke-linecap: square"/>
</g>
<g id="patch_35">
<path d="M 482.24234 298.050139 L 800.487465 298.050139 " style="fill: none; stroke: #000000; stroke-width: 0.9; stroke-linejoin: miter; stroke-linecap: square"/>
</g>
</g>
<g id="axes_5">
<g id="patch_36">
<path d="M 116.295265 1084.714485 L 821.239554 1084.714485 L 821.239554 597.493036 L 116.295265 597.493036 z
" style="fill: #ffffff"/>
</g>
<g id="matplotlib.axis_9">
<g id="xtick_75">
<g id="line2d_145">
<g>
<use href="#m38d85b45bb" x="210.236769" y="1084.714485" style="stroke: #000000"/>
</g>
</g>
<g id="Bx0" transform="translate(210.2368 1095.7145) scale(0.973 0.95) translate(-210.2368 -1095.7145)">
<g transform="translate(190.346769 1109.391672)">
<text>
<tspan x="0" y="-0.921875" style="font-size: 18px; font-family: 'DejaVu Sans'">1</tspan>
<tspan x="11.452148" y="-0.921875" style="font-size: 18px; font-family: 'DejaVu Sans'">0</tspan>
<tspan x="23.076563" y="-7.8125" style="font-size: 12.6px; font-family: 'DejaVu Sans'">1</tspan>
<tspan x="31.093066" y="-7.8125" style="font-size: 12.6px; font-family: 'DejaVu Sans'">1</tspan>
</text>
</g>
</g>
</g>
<g id="xtick_76">
<g id="line2d_146">
<g>
<use href="#m38d85b45bb" x="309.032033" y="1084.714485" style="stroke: #000000"/>
</g>
</g>
<g id="Bx1" transform="translate(309.032 1095.7145) scale(0.973 0.95) translate(-309.032 -1095.7145)">
<g transform="translate(289.142033 1109.391672)">
<text>
<tspan x="0" y="-0.921875" style="font-size: 18px; font-family: 'DejaVu Sans'">1</tspan>
<tspan x="11.452148" y="-0.921875" style="font-size: 18px; font-family: 'DejaVu Sans'">0</tspan>
<tspan x="23.076563" y="-7.8125" style="font-size: 12.6px; font-family: 'DejaVu Sans'">1</tspan>
<tspan x="31.093066" y="-7.8125" style="font-size: 12.6px; font-family: 'DejaVu Sans'">4</tspan>
</text>
</g>
</g>
</g>
<g id="xtick_77">
<g id="line2d_147">
<g>
<use href="#m38d85b45bb" x="407.827298" y="1084.714485" style="stroke: #000000"/>
</g>
</g>
<g id="Bx2" transform="translate(407.8273 1095.7145) scale(0.973 0.95) translate(-407.8273 -1095.7145)">
<g transform="translate(387.937298 1109.391672)">
<text>
<tspan x="0" y="-0.921875" style="font-size: 18px; font-family: 'DejaVu Sans'">1</tspan>
<tspan x="11.452148" y="-0.921875" style="font-size: 18px; font-family: 'DejaVu Sans'">0</tspan>
<tspan x="23.076563" y="-7.8125" style="font-size: 12.6px; font-family: 'DejaVu Sans'">1</tspan>
<tspan x="31.093066" y="-7.8125" style="font-size: 12.6px; font-family: 'DejaVu Sans'">7</tspan>
</text>
</g>
</g>
</g>
<g id="xtick_78">
<g id="line2d_148">
<g>
<use href="#m38d85b45bb" x="506.622563" y="1084.714485" style="stroke: #000000"/>
</g>
</g>
<g id="Bx3" transform="translate(506.6226 1095.7145) scale(0.973 0.95) translate(-506.6226 -1095.7145)">
<g transform="translate(486.732563 1109.391672)">
<text>
<tspan x="0" y="-0.757812" style="font-size: 18px; font-family: 'DejaVu Sans'">1</tspan>
<tspan x="11.452148" y="-0.757812" style="font-size: 18px; font-family: 'DejaVu Sans'">0</tspan>
<tspan x="23.076563" y="-7.648438" style="font-size: 12.6px; font-family: 'DejaVu Sans'">2</tspan>
<tspan x="31.093066" y="-7.648438" style="font-size: 12.6px; font-family: 'DejaVu Sans'">0</tspan>
</text>
</g>
</g>
</g>
<g id="xtick_79">
<g id="line2d_149">
<g>
<use href="#m38d85b45bb" x="605.417827" y="1084.714485" style="stroke: #000000"/>
</g>
</g>
<g id="Bx4" transform="translate(605.4178 1095.7145) scale(0.973 0.95) translate(-605.4178 -1095.7145)">
<g transform="translate(585.527827 1109.391672)">
<text>
<tspan x="0" y="-0.757812" style="font-size: 18px; font-family: 'DejaVu Sans'">1</tspan>
<tspan x="11.452148" y="-0.757812" style="font-size: 18px; font-family: 'DejaVu Sans'">0</tspan>
<tspan x="23.076563" y="-7.648438" style="font-size: 12.6px; font-family: 'DejaVu Sans'">2</tspan>
<tspan x="31.093066" y="-7.648438" style="font-size: 12.6px; font-family: 'DejaVu Sans'">3</tspan>
</text>
</g>
</g>
</g>
<g id="xtick_80">
<g id="line2d_150">
<g>
<use href="#m38d85b45bb" x="704.213092" y="1084.714485" style="stroke: #000000"/>
</g>
</g>
<g id="Bx5" transform="translate(704.2131 1095.7145) scale(0.973 0.95) translate(-704.2131 -1095.7145)">
<g transform="translate(684.323092 1109.391672)">
<text>
<tspan x="0" y="-0.757812" style="font-size: 18px; font-family: 'DejaVu Sans'">1</tspan>
<tspan x="11.452148" y="-0.757812" style="font-size: 18px; font-family: 'DejaVu Sans'">0</tspan>
<tspan x="23.076563" y="-7.648438" style="font-size: 12.6px; font-family: 'DejaVu Sans'">2</tspan>
<tspan x="31.093066" y="-7.648438" style="font-size: 12.6px; font-family: 'DejaVu Sans'">6</tspan>
</text>
</g>
</g>
</g>
<g id="xtick_81">
<g id="line2d_151">
<g>
<use href="#m38d85b45bb" x="803.008357" y="1084.714485" style="stroke: #000000"/>
</g>
</g>
<g id="Bx6" transform="translate(803.0084 1095.7145) scale(0.973 0.95) translate(-803.0084 -1095.7145)">
<g transform="translate(783.298357 1109.391672)">
<text>
<tspan x="0" y="-0.757812" style="font-size: 18px; font-family: 'DejaVu Sans'">1</tspan>
<tspan x="11.452148" y="-0.757812" style="font-size: 18px; font-family: 'DejaVu Sans'">0</tspan>
<tspan x="23.076563" y="-7.648438" style="font-size: 12.6px; font-family: 'DejaVu Sans'">2</tspan>
<tspan x="30.830566" y="-7.648438" style="font-size: 12.6px; font-family: 'DejaVu Sans'">9</tspan>
</text>
</g>
</g>
</g>
</g>
<g id="matplotlib.axis_10">
<g id="ytick_49">
<g id="line2d_152">
<g>
<use href="#mb89d10049e" x="116.295265" y="1037.291086" style="stroke: #000000"/>
</g>
</g>
<g id="By2" transform="translate(108.7953 1039.1628) scale(0.973 0.95) translate(-108.7953 -1039.1628)">
<g transform="translate(58.575265 1044.12968)">
<text>
<tspan x="0" y="-0.757812" style="font-size: 18px; font-family: 'DejaVu Sans'">1</tspan>
<tspan x="11.452148" y="-0.757812" style="font-size: 18px; font-family: 'DejaVu Sans'">0</tspan>
<tspan x="23.076563" y="-7.648438" style="font-size: 12.6px; font-family: 'DejaVu Sans'">−</tspan>
<tspan x="33.633984" y="-7.648438" style="font-size: 12.6px; font-family: 'DejaVu Sans'">1</tspan>
<tspan x="41.650488" y="-7.648438" style="font-size: 12.6px; font-family: 'DejaVu Sans'">6</tspan>
</text>
</g>
</g>
</g>
<g id="ytick_50">
<g id="line2d_153">
<g>
<use href="#mb89d10049e" x="116.295265" y="984.470752" style="stroke: #000000"/>
</g>
</g>
<g id="By3" transform="translate(108.7953 986.3425) scale(0.973 0.95) translate(-108.7953 -986.3425)">
<g transform="translate(58.575265 991.309346)">
<text>
<tspan x="0" y="-0.921875" style="font-size: 18px; font-family: 'DejaVu Sans'">1</tspan>
<tspan x="11.452148" y="-0.921875" style="font-size: 18px; font-family: 'DejaVu Sans'">0</tspan>
<tspan x="23.076563" y="-7.8125" style="font-size: 12.6px; font-family: 'DejaVu Sans'">−</tspan>
<tspan x="33.633984" y="-7.8125" style="font-size: 12.6px; font-family: 'DejaVu Sans'">1</tspan>
<tspan x="41.650488" y="-7.8125" style="font-size: 12.6px; font-family: 'DejaVu Sans'">5</tspan>
</text>
</g>
</g>
</g>
<g id="ytick_51">
<g id="line2d_154">
<g>
<use href="#mb89d10049e" x="116.295265" y="931.650418" style="stroke: #000000"/>
</g>
</g>
<g id="By4" transform="translate(108.7953 933.5221) scale(0.973 0.95) translate(-108.7953 -933.5221)">
<g transform="translate(58.575265 938.489012)">
<text>
<tspan x="0" y="-0.921875" style="font-size: 18px; font-family: 'DejaVu Sans'">1</tspan>
<tspan x="11.452148" y="-0.921875" style="font-size: 18px; font-family: 'DejaVu Sans'">0</tspan>
<tspan x="23.076563" y="-7.8125" style="font-size: 12.6px; font-family: 'DejaVu Sans'">−</tspan>
<tspan x="33.633984" y="-7.8125" style="font-size: 12.6px; font-family: 'DejaVu Sans'">1</tspan>
<tspan x="41.650488" y="-7.8125" style="font-size: 12.6px; font-family: 'DejaVu Sans'">4</tspan>
</text>
</g>
</g>
</g>
<g id="ytick_52">
<g id="line2d_155">
<g>
<use href="#mb89d10049e" x="116.295265" y="878.830084" style="stroke: #000000"/>
</g>
</g>
<g id="By5" transform="translate(108.7953 880.7018) scale(0.973 0.95) translate(-108.7953 -880.7018)">
<g transform="translate(58.575265 885.668677)">
<text>
<tspan x="0" y="-0.757812" style="font-size: 18px; font-family: 'DejaVu Sans'">1</tspan>
<tspan x="11.452148" y="-0.757812" style="font-size: 18px; font-family: 'DejaVu Sans'">0</tspan>
<tspan x="23.076563" y="-7.648438" style="font-size: 12.6px; font-family: 'DejaVu Sans'">−</tspan>
<tspan x="33.633984" y="-7.648438" style="font-size: 12.6px; font-family: 'DejaVu Sans'">1</tspan>
<tspan x="41.650488" y="-7.648438" style="font-size: 12.6px; font-family: 'DejaVu Sans'">3</tspan>
</text>
</g>
</g>
</g>
<g id="ytick_53">
<g id="line2d_156">
<g>
<use href="#mb89d10049e" x="116.295265" y="826.009749" style="stroke: #000000"/>
</g>
</g>
<g id="By6" transform="translate(108.7953 827.8815) scale(0.973 0.95) translate(-108.7953 -827.8815)">
<g transform="translate(58.575265 832.848343)">
<text>
<tspan x="0" y="-0.757812" style="font-size: 18px; font-family: 'DejaVu Sans'">1</tspan>
<tspan x="11.452148" y="-0.757812" style="font-size: 18px; font-family: 'DejaVu Sans'">0</tspan>
<tspan x="23.076563" y="-7.648438" style="font-size: 12.6px; font-family: 'DejaVu Sans'">−</tspan>
<tspan x="33.633984" y="-7.648438" style="font-size: 12.6px; font-family: 'DejaVu Sans'">1</tspan>
<tspan x="41.650488" y="-7.648438" style="font-size: 12.6px; font-family: 'DejaVu Sans'">2</tspan>
</text>
</g>
</g>
</g>
<g id="ytick_54">
<g id="line2d_157">
<g>
<use href="#mb89d10049e" x="116.295265" y="773.189415" style="stroke: #000000"/>
</g>
</g>
<g id="By7" transform="translate(108.7953 775.0611) scale(0.973 0.95) translate(-108.7953 -775.0611)">
<g transform="translate(58.575265 780.028009)">
<text>
<tspan x="0" y="-0.921875" style="font-size: 18px; font-family: 'DejaVu Sans'">1</tspan>
<tspan x="11.452148" y="-0.921875" style="font-size: 18px; font-family: 'DejaVu Sans'">0</tspan>
<tspan x="23.076563" y="-7.8125" style="font-size: 12.6px; font-family: 'DejaVu Sans'">−</tspan>
<tspan x="33.633984" y="-7.8125" style="font-size: 12.6px; font-family: 'DejaVu Sans'">1</tspan>
<tspan x="41.650488" y="-7.8125" style="font-size: 12.6px; font-family: 'DejaVu Sans'">1</tspan>
</text>
</g>
</g>
</g>
<g id="ytick_55">
<g id="line2d_158">
<g>
<use href="#mb89d10049e" x="116.295265" y="720.369081" style="stroke: #000000"/>
</g>
</g>
<g id="By8" transform="translate(108.7953 722.2408) scale(0.973 0.95) translate(-108.7953 -722.2408)">
<g transform="translate(58.575265 727.207675)">
<text>
<tspan x="0" y="-0.757812" style="font-size: 18px; font-family: 'DejaVu Sans'">1</tspan>
<tspan x="11.452148" y="-0.757812" style="font-size: 18px; font-family: 'DejaVu Sans'">0</tspan>
<tspan x="23.076563" y="-7.648438" style="font-size: 12.6px; font-family: 'DejaVu Sans'">−</tspan>
<tspan x="33.633984" y="-7.648438" style="font-size: 12.6px; font-family: 'DejaVu Sans'">1</tspan>
<tspan x="41.650488" y="-7.648438" style="font-size: 12.6px; font-family: 'DejaVu Sans'">0</tspan>
</text>
</g>
</g>
</g>
<g id="ytick_56">
<g id="line2d_159">
<g>
<use href="#mb89d10049e" x="116.295265" y="667.548747" style="stroke: #000000"/>
</g>
</g>
<g id="By9" transform="translate(108.7953 669.4205) scale(0.973 0.95) translate(-108.7953 -669.4205)">
<g transform="translate(66.495265 674.38734)">
<text>
<tspan x="0" y="-0.757812" style="font-size: 18px; font-family: 'DejaVu Sans'">1</tspan>
<tspan x="11.452148" y="-0.757812" style="font-size: 18px; font-family: 'DejaVu Sans'">0</tspan>
<tspan x="23.076563" y="-7.648438" style="font-size: 12.6px; font-family: 'DejaVu Sans'">−</tspan>
<tspan x="33.633984" y="-7.648438" style="font-size: 12.6px; font-family: 'DejaVu Sans'">9</tspan>
</text>
</g>
</g>
</g>
<g id="ytick_57">
<g id="line2d_160">
<g>
<use href="#mb89d10049e" x="116.295265" y="614.728412" style="stroke: #000000"/>
</g>
</g>
<g id="By10" transform="translate(108.7953 616.6001) scale(0.973 0.95) translate(-108.7953 -616.6001)">
<g transform="translate(66.495265 621.567006)">
<text>
<tspan x="0" y="-0.757812" style="font-size: 18px; font-family: 'DejaVu Sans'">1</tspan>
<tspan x="11.452148" y="-0.757812" style="font-size: 18px; font-family: 'DejaVu Sans'">0</tspan>
<tspan x="23.076563" y="-7.648438" style="font-size: 12.6px; font-family: 'DejaVu Sans'">−</tspan>
<tspan x="33.633984" y="-7.648438" style="font-size: 12.6px; font-family: 'DejaVu Sans'">8</tspan>
</text>
</g>
</g>
</g>
<g id="ytick_58">
<g id="line2d_161">
<g>
<use href="#m31b53ba5bc" x="116.295265" y="1074.210916" style="stroke: #000000; stroke-width: 0.8"/>
</g>
</g>
</g>
<g id="ytick_59">
<g id="line2d_162">
<g>
<use href="#m31b53ba5bc" x="116.295265" y="1064.909716" style="stroke: #000000; stroke-width: 0.8"/>
</g>
</g>
</g>
<g id="ytick_60">
<g id="line2d_163">
<g>
<use href="#m31b53ba5bc" x="116.295265" y="1058.310411" style="stroke: #000000; stroke-width: 0.8"/>
</g>
</g>
</g>
<g id="ytick_61">
<g id="line2d_164">
<g>
<use href="#m31b53ba5bc" x="116.295265" y="1053.191591" style="stroke: #000000; stroke-width: 0.8"/>
</g>
</g>
</g>
<g id="ytick_62">
<g id="line2d_165">
<g>
<use href="#m31b53ba5bc" x="116.295265" y="1049.009211" style="stroke: #000000; stroke-width: 0.8"/>
</g>
</g>
</g>
<g id="ytick_63">
<g id="line2d_166">
<g>
<use href="#m31b53ba5bc" x="116.295265" y="1045.47306" style="stroke: #000000; stroke-width: 0.8"/>
</g>
</g>
</g>
<g id="ytick_64">
<g id="line2d_167">
<g>
<use href="#m31b53ba5bc" x="116.295265" y="1042.409906" style="stroke: #000000; stroke-width: 0.8"/>
</g>
</g>
</g>
<g id="ytick_65">
<g id="line2d_168">
<g>
<use href="#m31b53ba5bc" x="116.295265" y="1039.708012" style="stroke: #000000; stroke-width: 0.8"/>
</g>
</g>
</g>
<g id="ytick_66">
<g id="line2d_169">
<g>
<use href="#m31b53ba5bc" x="116.295265" y="1021.390581" style="stroke: #000000; stroke-width: 0.8"/>
</g>
</g>
</g>
<g id="ytick_67">
<g id="line2d_170">
<g>
<use href="#m31b53ba5bc" x="116.295265" y="1012.089382" style="stroke: #000000; stroke-width: 0.8"/>
</g>
</g>
</g>
<g id="ytick_68">
<g id="line2d_171">
<g>
<use href="#m31b53ba5bc" x="116.295265" y="1005.490076" style="stroke: #000000; stroke-width: 0.8"/>
</g>
</g>
</g>
<g id="ytick_69">
<g id="line2d_172">
<g>
<use href="#m31b53ba5bc" x="116.295265" y="1000.371257" style="stroke: #000000; stroke-width: 0.8"/>
</g>
</g>
</g>
<g id="ytick_70">
<g id="line2d_173">
<g>
<use href="#m31b53ba5bc" x="116.295265" y="996.188877" style="stroke: #000000; stroke-width: 0.8"/>
</g>
</g>
</g>
<g id="ytick_71">
<g id="line2d_174">
<g>
<use href="#m31b53ba5bc" x="116.295265" y="992.652725" style="stroke: #000000; stroke-width: 0.8"/>
</g>
</g>
</g>
<g id="ytick_72">
<g id="line2d_175">
<g>
<use href="#m31b53ba5bc" x="116.295265" y="989.589571" style="stroke: #000000; stroke-width: 0.8"/>
</g>
</g>
</g>
<g id="ytick_73">
<g id="line2d_176">
<g>
<use href="#m31b53ba5bc" x="116.295265" y="986.887678" style="stroke: #000000; stroke-width: 0.8"/>
</g>
</g>
</g>
<g id="ytick_74">
<g id="line2d_177">
<g>
<use href="#m31b53ba5bc" x="116.295265" y="968.570247" style="stroke: #000000; stroke-width: 0.8"/>
</g>
</g>
</g>
<g id="ytick_75">
<g id="line2d_178">
<g>
<use href="#m31b53ba5bc" x="116.295265" y="959.269048" style="stroke: #000000; stroke-width: 0.8"/>
</g>
</g>
</g>
<g id="ytick_76">
<g id="line2d_179">
<g>
<use href="#m31b53ba5bc" x="116.295265" y="952.669742" style="stroke: #000000; stroke-width: 0.8"/>
</g>
</g>
</g>
<g id="ytick_77">
<g id="line2d_180">
<g>
<use href="#m31b53ba5bc" x="116.295265" y="947.550923" style="stroke: #000000; stroke-width: 0.8"/>
</g>
</g>
</g>
<g id="ytick_78">
<g id="line2d_181">
<g>
<use href="#m31b53ba5bc" x="116.295265" y="943.368543" style="stroke: #000000; stroke-width: 0.8"/>
</g>
</g>
</g>
<g id="ytick_79">
<g id="line2d_182">
<g>
<use href="#m31b53ba5bc" x="116.295265" y="939.832391" style="stroke: #000000; stroke-width: 0.8"/>
</g>
</g>
</g>
<g id="ytick_80">
<g id="line2d_183">
<g>
<use href="#m31b53ba5bc" x="116.295265" y="936.769237" style="stroke: #000000; stroke-width: 0.8"/>
</g>
</g>
</g>
<g id="ytick_81">
<g id="line2d_184">
<g>
<use href="#m31b53ba5bc" x="116.295265" y="934.067344" style="stroke: #000000; stroke-width: 0.8"/>
</g>
</g>
</g>
<g id="ytick_82">
<g id="line2d_185">
<g>
<use href="#m31b53ba5bc" x="116.295265" y="915.749913" style="stroke: #000000; stroke-width: 0.8"/>
</g>
</g>
</g>
<g id="ytick_83">
<g id="line2d_186">
<g>
<use href="#m31b53ba5bc" x="116.295265" y="906.448714" style="stroke: #000000; stroke-width: 0.8"/>
</g>
</g>
</g>
<g id="ytick_84">
<g id="line2d_187">
<g>
<use href="#m31b53ba5bc" x="116.295265" y="899.849408" style="stroke: #000000; stroke-width: 0.8"/>
</g>
</g>
</g>
<g id="ytick_85">
<g id="line2d_188">
<g>
<use href="#m31b53ba5bc" x="116.295265" y="894.730589" style="stroke: #000000; stroke-width: 0.8"/>
</g>
</g>
</g>
<g id="ytick_86">
<g id="line2d_189">
<g>
<use href="#m31b53ba5bc" x="116.295265" y="890.548209" style="stroke: #000000; stroke-width: 0.8"/>
</g>
</g>
</g>
<g id="ytick_87">
<g id="line2d_190">
<g>
<use href="#m31b53ba5bc" x="116.295265" y="887.012057" style="stroke: #000000; stroke-width: 0.8"/>
</g>
</g>
</g>
<g id="ytick_88">
<g id="line2d_191">
<g>
<use href="#m31b53ba5bc" x="116.295265" y="883.948903" style="stroke: #000000; stroke-width: 0.8"/>
</g>
</g>
</g>
<g id="ytick_89">
<g id="line2d_192">
<g>
<use href="#m31b53ba5bc" x="116.295265" y="881.24701" style="stroke: #000000; stroke-width: 0.8"/>
</g>
</g>
</g>
<g id="ytick_90">
<g id="line2d_193">
<g>
<use href="#m31b53ba5bc" x="116.295265" y="862.929579" style="stroke: #000000; stroke-width: 0.8"/>
</g>
</g>
</g>
<g id="ytick_91">
<g id="line2d_194">
<g>
<use href="#m31b53ba5bc" x="116.295265" y="853.628379" style="stroke: #000000; stroke-width: 0.8"/>
</g>
</g>
</g>
<g id="ytick_92">
<g id="line2d_195">
<g>
<use href="#m31b53ba5bc" x="116.295265" y="847.029074" style="stroke: #000000; stroke-width: 0.8"/>
</g>
</g>
</g>
<g id="ytick_93">
<g id="line2d_196">
<g>
<use href="#m31b53ba5bc" x="116.295265" y="841.910254" style="stroke: #000000; stroke-width: 0.8"/>
</g>
</g>
</g>
<g id="ytick_94">
<g id="line2d_197">
<g>
<use href="#m31b53ba5bc" x="116.295265" y="837.727874" style="stroke: #000000; stroke-width: 0.8"/>
</g>
</g>
</g>
<g id="ytick_95">
<g id="line2d_198">
<g>
<use href="#m31b53ba5bc" x="116.295265" y="834.191723" style="stroke: #000000; stroke-width: 0.8"/>
</g>
</g>
</g>
<g id="ytick_96">
<g id="line2d_199">
<g>
<use href="#m31b53ba5bc" x="116.295265" y="831.128569" style="stroke: #000000; stroke-width: 0.8"/>
</g>
</g>
</g>
<g id="ytick_97">
<g id="line2d_200">
<g>
<use href="#m31b53ba5bc" x="116.295265" y="828.426675" style="stroke: #000000; stroke-width: 0.8"/>
</g>
</g>
</g>
<g id="ytick_98">
<g id="line2d_201">
<g>
<use href="#m31b53ba5bc" x="116.295265" y="810.109244" style="stroke: #000000; stroke-width: 0.8"/>
</g>
</g>
</g>
<g id="ytick_99">
<g id="line2d_202">
<g>
<use href="#m31b53ba5bc" x="116.295265" y="800.808045" style="stroke: #000000; stroke-width: 0.8"/>
</g>
</g>
</g>
<g id="ytick_100">
<g id="line2d_203">
<g>
<use href="#m31b53ba5bc" x="116.295265" y="794.208739" style="stroke: #000000; stroke-width: 0.8"/>
</g>
</g>
</g>
<g id="ytick_101">
<g id="line2d_204">
<g>
<use href="#m31b53ba5bc" x="116.295265" y="789.08992" style="stroke: #000000; stroke-width: 0.8"/>
</g>
</g>
</g>
<g id="ytick_102">
<g id="line2d_205">
<g>
<use href="#m31b53ba5bc" x="116.295265" y="784.90754" style="stroke: #000000; stroke-width: 0.8"/>
</g>
</g>
</g>
<g id="ytick_103">
<g id="line2d_206">
<g>
<use href="#m31b53ba5bc" x="116.295265" y="781.371388" style="stroke: #000000; stroke-width: 0.8"/>
</g>
</g>
</g>
<g id="ytick_104">
<g id="line2d_207">
<g>
<use href="#m31b53ba5bc" x="116.295265" y="778.308234" style="stroke: #000000; stroke-width: 0.8"/>
</g>
</g>
</g>
<g id="ytick_105">
<g id="line2d_208">
<g>
<use href="#m31b53ba5bc" x="116.295265" y="775.606341" style="stroke: #000000; stroke-width: 0.8"/>
</g>
</g>
</g>
<g id="ytick_106">
<g id="line2d_209">
<g>
<use href="#m31b53ba5bc" x="116.295265" y="757.28891" style="stroke: #000000; stroke-width: 0.8"/>
</g>
</g>
</g>
<g id="ytick_107">
<g id="line2d_210">
<g>
<use href="#m31b53ba5bc" x="116.295265" y="747.987711" style="stroke: #000000; stroke-width: 0.8"/>
</g>
</g>
</g>
<g id="ytick_108">
<g id="line2d_211">
<g>
<use href="#m31b53ba5bc" x="116.295265" y="741.388405" style="stroke: #000000; stroke-width: 0.8"/>
</g>
</g>
</g>
<g id="ytick_109">
<g id="line2d_212">
<g>
<use href="#m31b53ba5bc" x="116.295265" y="736.269586" style="stroke: #000000; stroke-width: 0.8"/>
</g>
</g>
</g>
<g id="ytick_110">
<g id="line2d_213">
<g>
<use href="#m31b53ba5bc" x="116.295265" y="732.087206" style="stroke: #000000; stroke-width: 0.8"/>
</g>
</g>
</g>
<g id="ytick_111">
<g id="line2d_214">
<g>
<use href="#m31b53ba5bc" x="116.295265" y="728.551054" style="stroke: #000000; stroke-width: 0.8"/>
</g>
</g>
</g>
<g id="ytick_112">
<g id="line2d_215">
<g>
<use href="#m31b53ba5bc" x="116.295265" y="725.4879" style="stroke: #000000; stroke-width: 0.8"/>
</g>
</g>
</g>
<g id="ytick_113">
<g id="line2d_216">
<g>
<use href="#m31b53ba5bc" x="116.295265" y="722.786007" style="stroke: #000000; stroke-width: 0.8"/>
</g>
</g>
</g>
<g id="ytick_114">
<g id="line2d_217">
<g>
<use href="#m31b53ba5bc" x="116.295265" y="704.468576" style="stroke: #000000; stroke-width: 0.8"/>
</g>
</g>
</g>
<g id="ytick_115">
<g id="line2d_218">
<g>
<use href="#m31b53ba5bc" x="116.295265" y="695.167377" style="stroke: #000000; stroke-width: 0.8"/>
</g>
</g>
</g>
<g id="ytick_116">
<g id="line2d_219">
<g>
<use href="#m31b53ba5bc" x="116.295265" y="688.568071" style="stroke: #000000; stroke-width: 0.8"/>
</g>
</g>
</g>
<g id="ytick_117">
<g id="line2d_220">
<g>
<use href="#m31b53ba5bc" x="116.295265" y="683.449252" style="stroke: #000000; stroke-width: 0.8"/>
</g>
</g>
</g>
<g id="ytick_118">
<g id="line2d_221">
<g>
<use href="#m31b53ba5bc" x="116.295265" y="679.266872" style="stroke: #000000; stroke-width: 0.8"/>
</g>
</g>
</g>
<g id="ytick_119">
<g id="line2d_222">
<g>
<use href="#m31b53ba5bc" x="116.295265" y="675.73072" style="stroke: #000000; stroke-width: 0.8"/>
</g>
</g>
</g>
<g id="ytick_120">
<g id="line2d_223">
<g>
<use href="#m31b53ba5bc" x="116.295265" y="672.667566" style="stroke: #000000; stroke-width: 0.8"/>
</g>
</g>
</g>
<g id="ytick_121">
<g id="line2d_224">
<g>
<use href="#m31b53ba5bc" x="116.295265" y="669.965672" style="stroke: #000000; stroke-width: 0.8"/>
</g>
</g>
</g>
<g id="ytick_122">
<g id="line2d_225">
<g>
<use href="#m31b53ba5bc" x="116.295265" y="651.648242" style="stroke: #000000; stroke-width: 0.8"/>
</g>
</g>
</g>
<g id="ytick_123">
<g id="line2d_226">
<g>
<use href="#m31b53ba5bc" x="116.295265" y="642.347042" style="stroke: #000000; stroke-width: 0.8"/>
</g>
</g>
</g>
<g id="ytick_124">
<g id="line2d_227">
<g>
<use href="#m31b53ba5bc" x="116.295265" y="635.747737" style="stroke: #000000; stroke-width: 0.8"/>
</g>
</g>
</g>
<g id="ytick_125">
<g id="line2d_228">
<g>
<use href="#m31b53ba5bc" x="116.295265" y="630.628917" style="stroke: #000000; stroke-width: 0.8"/>
</g>
</g>
</g>
<g id="ytick_126">
<g id="line2d_229">
<g>
<use href="#m31b53ba5bc" x="116.295265" y="626.446537" style="stroke: #000000; stroke-width: 0.8"/>
</g>
</g>
</g>
<g id="ytick_127">
<g id="line2d_230">
<g>
<use href="#m31b53ba5bc" x="116.295265" y="622.910386" style="stroke: #000000; stroke-width: 0.8"/>
</g>
</g>
</g>
<g id="ytick_128">
<g id="line2d_231">
<g>
<use href="#m31b53ba5bc" x="116.295265" y="619.847232" style="stroke: #000000; stroke-width: 0.8"/>
</g>
</g>
</g>
<g id="ytick_129">
<g id="line2d_232">
<g>
<use href="#m31b53ba5bc" x="116.295265" y="617.145338" style="stroke: #000000; stroke-width: 0.8"/>
</g>
</g>
</g>
<g id="ytick_130">
<g id="line2d_233">
<g>
<use href="#m31b53ba5bc" x="116.295265" y="598.827907" style="stroke: #000000; stroke-width: 0.8"/>
</g>
</g>
</g>
</g>
<g id="line2d_234">
<defs>
<path id="m5caa19d3fb" d="M 0 3.35 C 0.88843 3.35 1.740593 2.997023 2.368808 2.368808 C 2.997023 1.740593 3.35 0.88843 3.35 0 C 3.35 -0.88843 2.997023 -1.740593 2.368808 -2.368808 C 1.740593 -2.997023 0.88843 -3.35 0 -3.35 C -0.88843 -3.35 -1.740593 -2.997023 -2.368808 -2.368808 C -2.997023 -1.740593 -3.35 -0.88843 -3.35 0 C -3.35 0.88843 -2.997023 1.740593 -2.368808 2.368808 C -1.740593 2.997023 -0.88843 3.35 0 3.35 z
" style="stroke: #ff0000"/>
</defs>
<g clip-path="url(#p4bf6efa7c3)">
<use href="#m5caa19d3fb" x="150.383008" y="1046.692201" style="fill: #ff0000; stroke: #ff0000"/>
<use href="#m5caa19d3fb" x="166.922006" y="1007.938719" style="fill: #ff0000; stroke: #ff0000"/>
<use href="#m5caa19d3fb" x="174.756267" y="989.658774" style="fill: #ff0000; stroke: #ff0000"/>
<use href="#m5caa19d3fb" x="183.461003" y="969.986072" style="fill: #ff0000; stroke: #ff0000"/>
<use href="#m5caa19d3fb" x="188.962396" y="956.545961" style="fill: #ff0000; stroke: #ff0000"/>
<use href="#m5caa19d3fb" x="208.704735" y="919.359331" style="fill: #ff0000; stroke: #ff0000"/>
<use href="#m5caa19d3fb" x="230.013928" y="891.538997" style="fill: #ff0000; stroke: #ff0000"/>
<use href="#m5caa19d3fb" x="223.01532" y="875.104457" style="fill: #ff0000; stroke: #ff0000"/>
</g>
</g>
<g id="line2d_235">
<defs>
<path id="m34412423e3" d="M 0 3.35 C 0.88843 3.35 1.740593 2.997023 2.368808 2.368808 C 2.997023 1.740593 3.35 0.88843 3.35 0 C 3.35 -0.88843 2.997023 -1.740593 2.368808 -2.368808 C 1.740593 -2.997023 0.88843 -3.35 0 -3.35 C -0.88843 -3.35 -1.740593 -2.997023 -2.368808 -2.368808 C -2.997023 -1.740593 -3.35 -0.88843 -3.35 0 C -3.35 0.88843 -2.997023 1.740593 -2.368808 2.368808 C -1.740593 2.997023 -0.88843 3.35 0 3.35 z
" style="stroke: #00bfbf"/>
</defs>
<g clip-path="url(#p4bf6efa7c3)">
<use href="#m34412423e3" x="330.745125" y="674.965181" style="fill: #00bfbf; stroke: #00bfbf"/>
<use href="#m34412423e3" x="333.008357" y="680.536212" style="fill: #00bfbf; stroke: #00bfbf"/>
<use href="#m34412423e3" x="336.142061" y="689.867688" style="fill: #00bfbf; stroke: #00bfbf"/>
<use href="#m34412423e3" x="335.619777" y="696.587744" style="fill: #00bfbf; stroke: #00bfbf"/>
<use href="#m34412423e3" x="331.441504" y="744.359331" style="fill: #00bfbf; stroke: #00bfbf"/>
<use href="#m34412423e3" x="339.345404" y="752.437326" style="fill: #00bfbf; stroke: #00bfbf"/>
</g>
</g>
<g id="line2d_236">
<defs>
<path id="m20cf2d4465" d="M 0 3.35 C 0.88843 3.35 1.740593 2.997023 2.368808 2.368808 C 2.997023 1.740593 3.35 0.88843 3.35 0 C 3.35 -0.88843 2.997023 -1.740593 2.368808 -2.368808 C 1.740593 -2.997023 0.88843 -3.35 0 -3.35 C -0.88843 -3.35 -1.740593 -2.997023 -2.368808 -2.368808 C -2.997023 -1.740593 -3.35 -0.88843 -3.35 0 C -3.35 0.88843 -2.997023 1.740593 -2.368808 2.368808 C -1.740593 2.997023 -0.88843 3.35 0 3.35 z
" style="stroke: #008000"/>
</defs>
<g clip-path="url(#p4bf6efa7c3)">
<use href="#m20cf2d4465" x="328.203343" y="672.458217" style="fill: #008000; stroke: #008000"/>
<use href="#m20cf2d4465" x="321.901114" y="676.566852" style="fill: #008000; stroke: #008000"/>
<use href="#m20cf2d4465" x="318.210306" y="679.839833" style="fill: #008000; stroke: #008000"/>
<use href="#m20cf2d4465" x="317.931755" y="682.869081" style="fill: #008000; stroke: #008000"/>
<use href="#m20cf2d4465" x="313.962396" y="695.891365" style="fill: #008000; stroke: #008000"/>
<use href="#m20cf2d4465" x="306.058496" y="716.747911" style="fill: #008000; stroke: #008000"/>
<use href="#m20cf2d4465" x="325.905292" y="730.188022" style="fill: #008000; stroke: #008000"/>
<use href="#m20cf2d4465" x="328.93454" y="731.998607" style="fill: #008000; stroke: #008000"/>
<use href="#m20cf2d4465" x="303.655989" y="736.664345" style="fill: #008000; stroke: #008000"/>
<use href="#m20cf2d4465" x="303.133705" y="744.359331" style="fill: #008000; stroke: #008000"/>
<use href="#m20cf2d4465" x="299.721448" y="748.502786" style="fill: #008000; stroke: #008000"/>
<use href="#m20cf2d4465" x="294.986072" y="765.14624" style="fill: #008000; stroke: #008000"/>
<use href="#m20cf2d4465" x="289.48468" y="784.087744" style="fill: #008000; stroke: #008000"/>
<use href="#m20cf2d4465" x="279.108635" y="789.728412" style="fill: #008000; stroke: #008000"/>
<use href="#m20cf2d4465" x="283.913649" y="791.295265" style="fill: #008000; stroke: #008000"/>
<use href="#m20cf2d4465" x="264.101671" y="806.963788" style="fill: #008000; stroke: #008000"/>
<use href="#m20cf2d4465" x="260.167131" y="857.694986" style="fill: #008000; stroke: #008000"/>
<use href="#m20cf2d4465" x="266.538997" y="860.828691" style="fill: #008000; stroke: #008000"/>
<use href="#m20cf2d4465" x="251.462396" y="870.995822" style="fill: #008000; stroke: #008000"/>
</g>
</g>
<g id="line2d_237">
<defs>
<path id="mc566efb2a5" d="M 0 -3.3 L -0.740896 -1.019756 L -3.138487 -1.019756 L -1.198795 0.389512 L -1.939691 2.669756 L -0 1.260488 L 1.939691 2.669756 L 1.198795 0.389512 L 3.138487 -1.019756 L 0.740896 -1.019756 z
" style="stroke: #008000; stroke-linejoin: bevel"/>
</defs>
<g clip-path="url(#p4bf6efa7c3)">
<use href="#mc566efb2a5" x="340.250696" y="699.582173" style="fill: #008000; stroke: #008000; stroke-linejoin: bevel"/>
<use href="#mc566efb2a5" x="342.44429" y="708.600279" style="fill: #008000; stroke: #008000; stroke-linejoin: bevel"/>
<use href="#mc566efb2a5" x="343.279944" y="722.458217" style="fill: #008000; stroke: #008000; stroke-linejoin: bevel"/>
<use href="#mc566efb2a5" x="344.881616" y="738.231198" style="fill: #008000; stroke: #008000; stroke-linejoin: bevel"/>
<use href="#mc566efb2a5" x="351.880223" y="744.498607" style="fill: #008000; stroke: #008000; stroke-linejoin: bevel"/>
<use href="#mc566efb2a5" x="346.448468" y="749.233983" style="fill: #008000; stroke: #008000; stroke-linejoin: bevel"/>
<use href="#mc566efb2a5" x="345.612813" y="754.909471" style="fill: #008000; stroke: #008000; stroke-linejoin: bevel"/>
<use href="#mc566efb2a5" x="347.249304" y="771.274373" style="fill: #008000; stroke: #008000; stroke-linejoin: bevel"/>
</g>
</g>
<g id="line2d_238">
<g clip-path="url(#p4bf6efa7c3)">
<use href="#m34412423e3" x="339.310585" y="706.545961" style="fill: #00bfbf; stroke: #00bfbf"/>
</g>
</g>
<g id="line2d_239">
<defs>
<path id="m85a924e599" d="M 0 3.35 C 0.88843 3.35 1.740593 2.997023 2.368808 2.368808 C 2.997023 1.740593 3.35 0.88843 3.35 0 C 3.35 -0.88843 2.997023 -1.740593 2.368808 -2.368808 C 1.740593 -2.997023 0.88843 -3.35 0 -3.35 C -0.88843 -3.35 -1.740593 -2.997023 -2.368808 -2.368808 C -2.997023 -1.740593 -3.35 -0.88843 -3.35 0 C -3.35 0.88843 -2.997023 1.740593 -2.368808 2.368808 C -1.740593 2.997023 -0.88843 3.35 0 3.35 z
" style="stroke: #bfbf00"/>
</defs>
<g clip-path="url(#p4bf6efa7c3)">
<use href="#m85a924e599" x="412.883008" y="748.467967" style="fill: #bfbf00; stroke: #bfbf00"/>
<use href="#m85a924e599" x="437.430362" y="765.807799" style="fill: #bfbf00; stroke: #bfbf00"/>
<use href="#m85a924e599" x="418.454039" y="788.788301" style="fill: #bfbf00; stroke: #bfbf00"/>
<use href="#m85a924e599" x="439.658774" y="801.427577" style="fill: #bfbf00; stroke: #bfbf00"/>
<use href="#m85a924e599" x="437.430362" y="804.909471" style="fill: #bfbf00; stroke: #bfbf00"/>
<use href="#m85a924e599" x="437.465181" y="853.551532" style="fill: #bfbf00; stroke: #bfbf00"/>
<use href="#m85a924e599" x="466.016713" y="860.619777" style="fill: #bfbf00; stroke: #bfbf00"/>
<use href="#m85a924e599" x="461.908078" y="867.270195" style="fill: #bfbf00; stroke: #bfbf00"/>
<use href="#m85a924e599" x="455.60585" y="886.908078" style="fill: #bfbf00; stroke: #bfbf00"/>
</g>
</g>
<g id="line2d_240">
<path d="M 592.235376 833.426184 L 608.704735 856.197772 L 626.009749 864.415042 L 641.922006 873.36351 L 667.200557 867.931755 L 693.454039 812.81337 " clip-path="url(#p4bf6efa7c3)" style="fill: none; stroke: #000000; stroke-width: 1.5; stroke-linecap: square"/>
</g>
<g id="line2d_241">
<path d="M 663.962396 752.193593 L 672.249304 777.611421 L 676.392758 791.43454 L 683.077994 812.5 L 688.997214 821.761838 L 695.4039 838.614206 L 703.238162 849.408078 L 722.249304 871.274373 L 736.246518 873.398329 L 744.846797 865.181058 L 761.316156 842.931755 L 768.488858 832.172702 L 776.392758 817.130919 L 782.834262 803.516713 L 788.579387 787.360724 " clip-path="url(#p4bf6efa7c3)" style="fill: none; stroke: #4b0082; stroke-width: 1.5; stroke-linecap: square"/>
</g>
<g id="line2d_242">
<path d="M 664.101671 763.405292 L 666.713092 777.611421 L 669.39415 794.220056 L 675.487465 805.884401 L 684.54039 830.954039 L 700.800836 856.545961 L 713.997214 873.781337 L 728.342618 889.554318 L 736.942897 894.220056 L 743.384401 893.837047 L 751.288301 888.126741 L 759.888579 877.367688 L 772.075209 858.008357 L 781.406685 842.235376 L 788.927577 829.317549 " clip-path="url(#p4bf6efa7c3)" style="fill: none; stroke: #008000; stroke-width: 1.5; stroke-linecap: square"/>
</g>
<g id="line2d_243">
<path d="M 588.579387 783.252089 L 625.591922 820.05571 " clip-path="url(#p4bf6efa7c3)" style="fill: none; stroke: #0000ff; stroke-width: 1.5; stroke-linecap: square"/>
</g>
<g id="LineCollection_9">
<path d="M 588.579387 786.908078 L 588.579387 783.426184 " clip-path="url(#p4bf6efa7c3)" style="fill: none; stroke: #0000ff; stroke-width: 1.5"/>
<path d="M 601.949861 799.268802 L 601.949861 795.961003 " clip-path="url(#p4bf6efa7c3)" style="fill: none; stroke: #0000ff; stroke-width: 1.5"/>
<path d="M 613.962396 806.754875 L 613.962396 803.62117 " clip-path="url(#p4bf6efa7c3)" style="fill: none; stroke: #0000ff; stroke-width: 1.5"/>
<path d="M 625.591922 829.526462 L 625.591922 817.165738 " clip-path="url(#p4bf6efa7c3)" style="fill: none; stroke: #0000ff; stroke-width: 1.5"/>
</g>
<g id="line2d_244">
<path d="M 591.43454 783.948468 L 652.506964 793.036212 " clip-path="url(#p4bf6efa7c3)" style="fill: none; stroke-dasharray: 5.55,2.4; stroke-dashoffset: 0; stroke: #ff0000; stroke-width: 1.5"/>
</g>
<g id="LineCollection_10">
<path d="M 591.43454 796.239554 L 591.43454 772.876045 " clip-path="url(#p4bf6efa7c3)" style="fill: none; stroke: #ff0000; stroke-width: 1.5"/>
<path d="M 612.012535 796.239554 L 612.012535 780.675487 " clip-path="url(#p4bf6efa7c3)" style="fill: none; stroke: #ff0000; stroke-width: 1.5"/>
<path d="M 632.834262 810.445682 L 632.834262 788.857939 " clip-path="url(#p4bf6efa7c3)" style="fill: none; stroke: #ff0000; stroke-width: 1.5"/>
<path d="M 652.506964 816.78273 L 652.506964 776.880223 " clip-path="url(#p4bf6efa7c3)" style="fill: none; stroke: #ff0000; stroke-width: 1.5"/>
</g>
<g id="line2d_245">
<defs>
<path id="m442cae31f7" d="M -0 4.454773 L 4.454773 0 L 0 -4.454773 L -4.454773 -0 z
" style="stroke: #000000; stroke-linejoin: miter"/>
</defs>
<g clip-path="url(#p4bf6efa7c3)">
<use href="#m442cae31f7" x="727.054318" y="619.603064" style="stroke: #000000; stroke-linejoin: miter"/>
<use href="#m442cae31f7" x="727.054318" y="674.895543" style="stroke: #000000; stroke-linejoin: miter"/>
<use href="#m442cae31f7" x="727.054318" y="723.224234" style="stroke: #000000; stroke-linejoin: miter"/>
</g>
</g>
<g id="line2d_246">
<defs>
<path id="mc5677e464d" d="M -0 4.454773 L 2.672864 0 L 0 -4.454773 L -2.672864 -0 z
" style="stroke: #bf00bf; stroke-linejoin: miter"/>
</defs>
<g clip-path="url(#p4bf6efa7c3)">
<use href="#mc5677e464d" x="701.63649" y="627.576602" style="fill: #bf00bf; stroke: #bf00bf; stroke-linejoin: miter"/>
<use href="#mc5677e464d" x="701.63649" y="687.708914" style="fill: #bf00bf; stroke: #bf00bf; stroke-linejoin: miter"/>
<use href="#mc5677e464d" x="701.63649" y="717.583565" style="fill: #bf00bf; stroke: #bf00bf; stroke-linejoin: miter"/>
<use href="#mc5677e464d" x="701.63649" y="726.044568" style="fill: #bf00bf; stroke: #bf00bf; stroke-linejoin: miter"/>
</g>
</g>
<g id="line2d_247">
<defs>
<path id="m850a82039a" d="M 0 3.15 C 0.83539 3.15 1.636677 2.818096 2.227386 2.227386 C 2.818096 1.636677 3.15 0.83539 3.15 0 C 3.15 -0.83539 2.818096 -1.636677 2.227386 -2.227386 C 1.636677 -2.818096 0.83539 -3.15 0 -3.15 C -0.83539 -3.15 -1.636677 -2.818096 -2.227386 -2.227386 C -2.818096 -1.636677 -3.15 -0.83539 -3.15 0 C -3.15 0.83539 -2.818096 1.636677 -2.227386 2.227386 C -1.636677 2.818096 -0.83539 3.15 0 3.15 z
" style="stroke: #0000ff"/>
</defs>
<g clip-path="url(#p4bf6efa7c3)">
<use href="#m850a82039a" x="147.910864" y="1061.559889" style="fill: #0000ff; stroke: #0000ff"/>
</g>
</g>
<g id="line2d_248">
<g clip-path="url(#p4bf6efa7c3)">
<use href="#m3a547c31ff" x="588.579387" y="785.167131" style="stroke: #0000ff"/>
<use href="#m3a547c31ff" x="601.949861" y="797.632312" style="stroke: #0000ff"/>
<use href="#m3a547c31ff" x="613.962396" y="805.222841" style="stroke: #0000ff"/>
<use href="#m3a547c31ff" x="625.591922" y="822.910864" style="stroke: #0000ff"/>
</g>
</g>
<g id="line2d_249">
<defs>
<path id="m2f34b1b3c2" d="M -0 4.384062 L 2.630437 0 L 0 -4.384062 L -2.630437 -0 z
" style="stroke: #ff0000; stroke-linejoin: miter"/>
</defs>
<g clip-path="url(#p4bf6efa7c3)">
<use href="#m2f34b1b3c2" x="591.43454" y="781.720056" style="fill: #ff0000; stroke: #ff0000; stroke-linejoin: miter"/>
<use href="#m2f34b1b3c2" x="612.012535" y="787.256267" style="fill: #ff0000; stroke: #ff0000; stroke-linejoin: miter"/>
<use href="#m2f34b1b3c2" x="632.834262" y="797.527855" style="fill: #ff0000; stroke: #ff0000; stroke-linejoin: miter"/>
<use href="#m2f34b1b3c2" x="652.506964" y="789.519499" style="fill: #ff0000; stroke: #ff0000; stroke-linejoin: miter"/>
</g>
</g>
<g id="patch_37">
<path d="M 116.295265 1084.714485 L 116.295265 597.493036 " style="fill: none; stroke: #000000; stroke-width: 0.9; stroke-linejoin: miter; stroke-linecap: square"/>
</g>
<g id="patch_38">
<path d="M 821.239554 1084.714485 L 821.239554 597.493036 " style="fill: none; stroke: #000000; stroke-width: 0.9; stroke-linejoin: miter; stroke-linecap: square"/>
</g>
<g id="patch_39">
<path d="M 116.295265 1084.714485 L 821.239554 1084.714485 " style="fill: none; stroke: #000000; stroke-width: 0.9; stroke-linejoin: miter; stroke-linecap: square"/>
</g>
<g id="patch_40">
<path d="M 116.295265 597.493036 L 821.239554 597.493036 " style="fill: none; stroke: #000000; stroke-width: 0.9; stroke-linejoin: miter; stroke-linecap: square"/>
</g>
</g>
<g id="a1">
<text style="font-size: 18px; font-family: 'DejaVu Sans'; text-anchor: start" x="120.125348" y="235.027855" transform="rotate(-0 120.125348 235.027855)">a(i). Binned</text>
</g>
<g id="a2">
<text style="font-size: 18px; font-family: 'DejaVu Sans'; text-anchor: start" x="665.529248" y="35.619777" transform="rotate(-0 665.529248 35.619777)">a(ii). Binned</text>
</g>
<g id="a3">
<text style="font-size: 18px; font-family: 'DejaVu Sans'; text-anchor: start" x="119.916435" y="514.832869" transform="rotate(-0 119.916435 514.832869)">a(iii). Unbinned</text>
</g>
<g id="a4">
<text style="font-size: 18px; font-family: 'DejaVu Sans'; text-anchor: start" x="645.473538" y="320.090529" transform="rotate(-0 645.473538 320.090529)">a(iv). Unbinned</text>
</g>
<g id="xl3">
<text style="font-size: 18px; font-family: 'DejaVu Sans'; text-anchor: start" x="198.885794" y="580.60585" transform="rotate(-0 198.885794 580.60585)">Energy (GeV)</text>
</g>
<g id="xl4">
<text style="font-size: 18px; font-family: 'DejaVu Sans'; text-anchor: start" x="581.058496" y="580.431755" transform="rotate(-0 581.058496 580.431755)">Energy (GeV)</text>
</g>
<g id="xlb" transform="translate(402.507 1128.4471) scale(1 0.953) translate(-402.507 -1128.4471)">
<text style="font-size: 18px; font-family: 'DejaVu Sans'; text-anchor: start" x="400.766017" y="1128.447075" transform="rotate(-0 400.766017 1128.447075)">Frequency [Hz]</text>
</g>
<g id="b" transform="translate(145.8217 622.2841) scale(0.94 0.935) translate(-145.8217 -622.2841)">
<text style="font-size: 18px; font-family: 'DejaVu Sans'; text-anchor: start" x="144.220056" y="622.284123" transform="rotate(-0 144.220056 622.284123)">(b)</text>
</g>
<g id="opt" transform="translate(343.6978 679.9095) scale(0.977 0.95) translate(-343.6978 -679.9095)">
<text style="font-size: 18px; font-family: 'DejaVu Sans'; text-anchor: start; fill: #00bfbf" x="342.75766" y="679.909471" transform="rotate(-0 342.75766 679.909471)">Optical</text>
</g>
<g id="uv" transform="translate(350.4526 735.1671) scale(0.98 0.95) translate(-350.4526 -735.1671)">
<text style="font-size: 18px; font-family: 'DejaVu Sans'; text-anchor: start; fill: #008000" x="348.885794" y="735.167131" transform="rotate(-0 348.885794 735.167131)">UV</text>
</g>
<g id="ir" transform="translate(280.0139 752.4373) scale(0.98 0.95) translate(-280.0139 -752.4373)">
<text style="font-size: 18px; font-family: 'DejaVu Sans'; text-anchor: start; fill: #008000" x="278.133705" y="752.437326" transform="rotate(-0 278.133705 752.437326)">IR</text>
</g>
<g id="radio" transform="translate(208.844 964.0669) scale(0.985 0.95) translate(-208.844 -964.0669)">
<text style="font-size: 18px; font-family: 'DejaVu Sans'; text-anchor: start; fill: #ff0000" x="206.89415" y="964.066852" transform="rotate(-0 206.89415 964.066852)">Radio</text>
</g>
<g id="xray" transform="translate(450.4178 820.7173) scale(0.985 0.95) translate(-450.4178 -820.7173)">
<text style="font-size: 18px; font-family: 'DejaVu Sans'; text-anchor: start; fill: #bfbf00" x="449.651811" y="820.71727" transform="rotate(-0 449.651811 820.71727)">X-ray</text>
</g>
<g id="fermr" transform="translate(509.61 770.2298) scale(0.985 0.95) translate(-509.61 -770.2298)">
<g style="fill: #ff0000" transform="translate(507.799443 770.229805)">
<text>
<tspan x="0" y="-0.328125" style="font-size: 18px; font-family: 'DejaVu Sans'; fill: #ff0000">F</tspan>
<tspan x="10.353516" y="-0.328125" style="font-size: 18px; font-family: 'DejaVu Sans'; fill: #ff0000">e</tspan>
<tspan x="21.427734" y="-0.328125" style="font-size: 18px; font-family: 'DejaVu Sans'; fill: #ff0000">r</tspan>
<tspan x="28.828125" y="-0.328125" style="font-size: 18px; font-family: 'DejaVu Sans'; fill: #ff0000">m</tspan>
<tspan x="46.362305" y="-0.328125" style="font-size: 18px; font-family: 'DejaVu Sans'; fill: #ff0000">i</tspan>
<tspan x="51.363281" y="-0.328125" style="font-size: 18px; font-family: 'DejaVu Sans'; fill: #ff0000"> </tspan>
<tspan x="57.084961" y="-0.328125" style="font-size: 18px; font-family: 'DejaVu Sans'; fill: #ff0000">(</tspan>
<tspan x="78.266602" y="-0.328125" style="font-size: 18px; font-family: 'DejaVu Sans'; fill: #ff0000">−</tspan>
<tspan x="96.855469" y="-0.328125" style="font-size: 18px; font-family: 'DejaVu Sans'; fill: #ff0000">r</tspan>
<tspan x="104.255859" y="-0.328125" style="font-size: 18px; font-family: 'DejaVu Sans'; fill: #ff0000">a</tspan>
<tspan x="115.286133" y="-0.328125" style="font-size: 18px; font-family: 'DejaVu Sans'; fill: #ff0000">y</tspan>
<tspan x="125.938477" y="-0.328125" style="font-size: 18px; font-family: 'DejaVu Sans'; fill: #ff0000">s</tspan>
<tspan x="135.316406" y="-0.328125" style="font-size: 18px; font-family: 'DejaVu Sans'; fill: #ff0000">)</tspan>
<tspan x="64.107422" y="-0.328125" style="font-style: oblique; font-size: 18px; font-family: 'DejaVu Sans'; fill: #ff0000">γ</tspan>
</text>
</g>
</g>
<g id="fermb" transform="translate(446.8663 795.5432) scale(0.983 0.95) translate(-446.8663 -795.5432)">
<g style="fill: #000080" transform="translate(444.846797 795.543175)">
<text>
<tspan x="0" y="-0.328125" style="font-size: 18px; font-family: 'DejaVu Sans'; fill: #000080">F</tspan>
<tspan x="10.353516" y="-0.328125" style="font-size: 18px; font-family: 'DejaVu Sans'; fill: #000080">e</tspan>
<tspan x="21.427734" y="-0.328125" style="font-size: 18px; font-family: 'DejaVu Sans'; fill: #000080">r</tspan>
<tspan x="28.828125" y="-0.328125" style="font-size: 18px; font-family: 'DejaVu Sans'; fill: #000080">m</tspan>
<tspan x="46.362305" y="-0.328125" style="font-size: 18px; font-family: 'DejaVu Sans'; fill: #000080">i</tspan>
<tspan x="51.363281" y="-0.328125" style="font-size: 18px; font-family: 'DejaVu Sans'; fill: #000080"> </tspan>
<tspan x="57.084961" y="-0.328125" style="font-size: 18px; font-family: 'DejaVu Sans'; fill: #000080">(</tspan>
<tspan x="78.266602" y="-0.328125" style="font-size: 18px; font-family: 'DejaVu Sans'; fill: #000080">−</tspan>
<tspan x="96.855469" y="-0.328125" style="font-size: 18px; font-family: 'DejaVu Sans'; fill: #000080">r</tspan>
<tspan x="104.255859" y="-0.328125" style="font-size: 18px; font-family: 'DejaVu Sans'; fill: #000080">a</tspan>
<tspan x="115.286133" y="-0.328125" style="font-size: 18px; font-family: 'DejaVu Sans'; fill: #000080">y</tspan>
<tspan x="125.938477" y="-0.328125" style="font-size: 18px; font-family: 'DejaVu Sans'; fill: #000080">s</tspan>
<tspan x="135.316406" y="-0.328125" style="font-size: 18px; font-family: 'DejaVu Sans'; fill: #000080">)</tspan>
<tspan x="64.107422" y="-0.328125" style="font-style: oblique; font-size: 18px; font-family: 'DejaVu Sans'; fill: #000080">γ</tspan>
</text>
</g>
</g>
<g id="tev" transform="translate(706.1978 650.1741) scale(0.983 0.95) translate(-706.1978 -650.1741)">
<g transform="translate(706.058496 650.174095)">
<text>
<tspan x="0" y="-0.875" style="font-size: 18px; font-family: 'DejaVu Sans'">T</tspan>
<tspan x="10.995117" y="-0.875" style="font-size: 18px; font-family: 'DejaVu Sans'">e</tspan>
<tspan x="22.069336" y="-0.875" style="font-size: 18px; font-family: 'DejaVu Sans'">V</tspan>
<tspan x="34.382812" y="-0.875" style="font-size: 18px; font-family: 'DejaVu Sans'"> </tspan>
<tspan x="54.263672" y="-0.875" style="font-size: 18px; font-family: 'DejaVu Sans'">−</tspan>
<tspan x="72.852539" y="-0.875" style="font-size: 18px; font-family: 'DejaVu Sans'">r</tspan>
<tspan x="80.25293" y="-0.875" style="font-size: 18px; font-family: 'DejaVu Sans'">a</tspan>
<tspan x="91.283203" y="-0.875" style="font-size: 18px; font-family: 'DejaVu Sans'">y</tspan>
<tspan x="101.935547" y="-0.875" style="font-size: 18px; font-family: 'DejaVu Sans'">s</tspan>
<tspan x="40.104492" y="-0.875" style="font-style: oblique; font-size: 18px; font-family: 'DejaVu Sans'">γ</tspan>
</text>
</g>
</g>
<g id="g100" transform="translate(512.0125 695.0905) scale(0.9755 0.95) translate(-512.0125 -695.0905)">
<g style="fill: #bf00bf" transform="translate(510.445682 695.090529)">
<text>
<tspan x="0" y="-0.640625" style="font-style: oblique; font-size: 18px; font-family: 'DejaVu Sans'; fill: #bf00bf">γ</tspan>
<tspan x="14.15918" y="-0.640625" style="font-size: 18px; font-family: 'DejaVu Sans'; fill: #bf00bf">−</tspan>
<tspan x="32.748047" y="-0.640625" style="font-size: 18px; font-family: 'DejaVu Sans'; fill: #bf00bf">r</tspan>
<tspan x="40.148438" y="-0.640625" style="font-size: 18px; font-family: 'DejaVu Sans'; fill: #bf00bf">a</tspan>
<tspan x="51.178711" y="-0.640625" style="font-size: 18px; font-family: 'DejaVu Sans'; fill: #bf00bf">y</tspan>
<tspan x="61.831055" y="-0.640625" style="font-size: 18px; font-family: 'DejaVu Sans'; fill: #bf00bf">s</tspan>
<tspan x="71.208984" y="-0.640625" style="font-size: 18px; font-family: 'DejaVu Sans'; fill: #bf00bf"> </tspan>
<tspan x="76.930664" y="-0.640625" style="font-size: 18px; font-family: 'DejaVu Sans'; fill: #bf00bf">&gt;</tspan>
<tspan x="92.012695" y="-0.640625" style="font-size: 18px; font-family: 'DejaVu Sans'; fill: #bf00bf"> </tspan>
<tspan x="97.734375" y="-0.640625" style="font-size: 18px; font-family: 'DejaVu Sans'; fill: #bf00bf">1</tspan>
<tspan x="109.186523" y="-0.640625" style="font-size: 18px; font-family: 'DejaVu Sans'; fill: #bf00bf">0</tspan>
<tspan x="120.638672" y="-0.640625" style="font-size: 18px; font-family: 'DejaVu Sans'; fill: #bf00bf">0</tspan>
<tspan x="132.09082" y="-0.640625" style="font-size: 18px; font-family: 'DejaVu Sans'; fill: #bf00bf"> </tspan>
<tspan x="137.8125" y="-0.640625" style="font-size: 18px; font-family: 'DejaVu Sans'; fill: #bf00bf">G</tspan>
<tspan x="151.760742" y="-0.640625" style="font-size: 18px; font-family: 'DejaVu Sans'; fill: #bf00bf">e</tspan>
<tspan x="162.834961" y="-0.640625" style="font-size: 18px; font-family: 'DejaVu Sans'; fill: #bf00bf">V</tspan>
</text>
</g>
</g>
<g id="ctan" transform="translate(706.1281 775.9053) scale(0.984 0.95) translate(-706.1281 -775.9053)">
<g style="fill: #4b0082" transform="translate(705.083565 775.905292)">
<text>
<tspan x="0" y="-0.640625" style="font-size: 18px; font-family: 'DejaVu Sans'; fill: #4b0082">C</tspan>
<tspan x="12.568359" y="-0.640625" style="font-size: 18px; font-family: 'DejaVu Sans'; fill: #4b0082">T</tspan>
<tspan x="23.563477" y="-0.640625" style="font-size: 18px; font-family: 'DejaVu Sans'; fill: #4b0082">A</tspan>
<tspan x="35.876953" y="-0.640625" style="font-size: 18px; font-family: 'DejaVu Sans'; fill: #4b0082">−</tspan>
<tspan x="50.958984" y="-0.640625" style="font-size: 18px; font-family: 'DejaVu Sans'; fill: #4b0082">N</tspan>
<tspan x="64.423828" y="-0.640625" style="font-size: 18px; font-family: 'DejaVu Sans'; fill: #4b0082">O</tspan>
<tspan x="78.591797" y="-0.640625" style="font-size: 18px; font-family: 'DejaVu Sans'; fill: #4b0082">R</tspan>
<tspan x="91.098633" y="-0.640625" style="font-size: 18px; font-family: 'DejaVu Sans'; fill: #4b0082">T</tspan>
<tspan x="102.09375" y="-0.640625" style="font-size: 18px; font-family: 'DejaVu Sans'; fill: #4b0082">H</tspan>
</text>
</g>
</g>
<g id="flat" transform="translate(614.5891 888.2312) scale(0.973 0.95) translate(-614.5891 -888.2312)">
<g transform="translate(612.604457 888.231198)">
<text>
<tspan x="0" y="-0.328125" style="font-size: 18px; font-family: 'DejaVu Sans'">F</tspan>
<tspan x="10.353516" y="-0.328125" style="font-size: 18px; font-family: 'DejaVu Sans'">e</tspan>
<tspan x="21.427734" y="-0.328125" style="font-size: 18px; font-family: 'DejaVu Sans'">r</tspan>
<tspan x="28.828125" y="-0.328125" style="font-size: 18px; font-family: 'DejaVu Sans'">m</tspan>
<tspan x="46.362305" y="-0.328125" style="font-size: 18px; font-family: 'DejaVu Sans'">i</tspan>
<tspan x="51.363281" y="-0.328125" style="font-size: 18px; font-family: 'DejaVu Sans'">−</tspan>
<tspan x="66.445312" y="-0.328125" style="font-size: 18px; font-family: 'DejaVu Sans'">L</tspan>
<tspan x="76.473633" y="-0.328125" style="font-size: 18px; font-family: 'DejaVu Sans'">A</tspan>
<tspan x="88.787109" y="-0.328125" style="font-size: 18px; font-family: 'DejaVu Sans'">T</tspan>
</text>
</g>
</g>
<g id="ctas" transform="translate(705.2577 909.1922) scale(0.987 0.95) translate(-705.2577 -909.1922)">
<g style="fill: #008000" transform="translate(704.038997 909.192201)">
<text>
<tspan x="0" y="-0.640625" style="font-size: 18px; font-family: 'DejaVu Sans'; fill: #008000">C</tspan>
<tspan x="12.568359" y="-0.640625" style="font-size: 18px; font-family: 'DejaVu Sans'; fill: #008000">T</tspan>
<tspan x="23.563477" y="-0.640625" style="font-size: 18px; font-family: 'DejaVu Sans'; fill: #008000">A</tspan>
<tspan x="35.876953" y="-0.640625" style="font-size: 18px; font-family: 'DejaVu Sans'; fill: #008000">−</tspan>
<tspan x="50.958984" y="-0.640625" style="font-size: 18px; font-family: 'DejaVu Sans'; fill: #008000">S</tspan>
<tspan x="62.384766" y="-0.640625" style="font-size: 18px; font-family: 'DejaVu Sans'; fill: #008000">O</tspan>
<tspan x="76.552734" y="-0.640625" style="font-size: 18px; font-family: 'DejaVu Sans'; fill: #008000">U</tspan>
<tspan x="89.352539" y="-0.640625" style="font-size: 18px; font-family: 'DejaVu Sans'; fill: #008000">T</tspan>
<tspan x="100.347656" y="-0.640625" style="font-size: 18px; font-family: 'DejaVu Sans'; fill: #008000">H</tspan>
</text>
</g>
</g>
<g id="meer" transform="translate(165.0766 1065.6337) scale(1 0.955) translate(-165.0766 -1065.6337)">
<text style="font-size: 18px; font-family: 'DejaVu Sans'; text-anchor: start; fill: #0000ff" x="163.091922" y="1065.633705" transform="rotate(-0 163.091922 1065.633705)">MeerKAT flux</text>
</g>
<g id="yl1" transform="translate(32.5905 236.3162) scale(1 0.985) translate(-32.5905 -236.3162)">
<g transform="translate(32.590529 238.196379) rotate(-90)">
<text>
<tspan x="0" y="-0.757812" style="font-size: 18px; font-family: 'DejaVu Sans'">E</tspan>
<tspan x="20.054004" y="-0.757812" style="font-size: 18px; font-family: 'DejaVu Sans'"> </tspan>
<tspan x="25.775684" y="-0.757812" style="font-size: 18px; font-family: 'DejaVu Sans'">d</tspan>
<tspan x="37.201465" y="-0.757812" style="font-size: 18px; font-family: 'DejaVu Sans'">N</tspan>
<tspan x="50.666309" y="-0.757812" style="font-size: 18px; font-family: 'DejaVu Sans'">/</tspan>
<tspan x="56.730762" y="-0.757812" style="font-size: 18px; font-family: 'DejaVu Sans'">d</tspan>
<tspan x="68.156543" y="-0.757812" style="font-size: 18px; font-family: 'DejaVu Sans'">E</tspan>
<tspan x="79.52959" y="-0.757812" style="font-size: 18px; font-family: 'DejaVu Sans'"> </tspan>
<tspan x="85.25127" y="-0.757812" style="font-size: 18px; font-family: 'DejaVu Sans'">[</tspan>
<tspan x="92.27373" y="-0.757812" style="font-size: 18px; font-family: 'DejaVu Sans'">e</tspan>
<tspan x="103.347949" y="-0.757812" style="font-size: 18px; font-family: 'DejaVu Sans'">r</tspan>
<tspan x="110.74834" y="-0.757812" style="font-size: 18px; font-family: 'DejaVu Sans'">g</tspan>
<tspan x="122.174121" y="-0.757812" style="font-size: 18px; font-family: 'DejaVu Sans'"> </tspan>
<tspan x="127.895801" y="-0.757812" style="font-size: 18px; font-family: 'DejaVu Sans'">s</tspan>
<tspan x="156.512109" y="-0.757812" style="font-size: 18px; font-family: 'DejaVu Sans'"> </tspan>
<tspan x="162.233789" y="-0.757812" style="font-size: 18px; font-family: 'DejaVu Sans'">c</tspan>
<tspan x="172.130273" y="-0.757812" style="font-size: 18px; font-family: 'DejaVu Sans'">m</tspan>
<tspan x="208.902832" y="-0.757812" style="font-size: 18px; font-family: 'DejaVu Sans'">]</tspan>
<tspan x="11.545312" y="-7.648438" style="font-size: 12.6px; font-family: 'DejaVu Sans'">2</tspan>
<tspan x="137.445996" y="-7.648438" style="font-size: 12.6px; font-family: 'DejaVu Sans'">−</tspan>
<tspan x="148.003418" y="-7.648438" style="font-size: 12.6px; font-family: 'DejaVu Sans'">1</tspan>
<tspan x="189.836719" y="-7.648438" style="font-size: 12.6px; font-family: 'DejaVu Sans'">−</tspan>
<tspan x="200.394141" y="-7.648438" style="font-size: 12.6px; font-family: 'DejaVu Sans'">2</tspan>
</text>
</g>
</g>
<g id="yl3" transform="translate(32.2423 520.5432) scale(1 0.985) translate(-32.2423 -520.5432)">
<g transform="translate(32.24234 522.597493) rotate(-90)">
<text>
<tspan x="0" y="-0.757812" style="font-size: 18px; font-family: 'DejaVu Sans'">E</tspan>
<tspan x="20.054004" y="-0.757812" style="font-size: 18px; font-family: 'DejaVu Sans'"> </tspan>
<tspan x="25.775684" y="-0.757812" style="font-size: 18px; font-family: 'DejaVu Sans'">d</tspan>
<tspan x="37.201465" y="-0.757812" style="font-size: 18px; font-family: 'DejaVu Sans'">N</tspan>
<tspan x="50.666309" y="-0.757812" style="font-size: 18px; font-family: 'DejaVu Sans'">/</tspan>
<tspan x="56.730762" y="-0.757812" style="font-size: 18px; font-family: 'DejaVu Sans'">d</tspan>
<tspan x="68.156543" y="-0.757812" style="font-size: 18px; font-family: 'DejaVu Sans'">E</tspan>
<tspan x="79.52959" y="-0.757812" style="font-size: 18px; font-family: 'DejaVu Sans'"> </tspan>
<tspan x="85.25127" y="-0.757812" style="font-size: 18px; font-family: 'DejaVu Sans'">[</tspan>
<tspan x="92.27373" y="-0.757812" style="font-size: 18px; font-family: 'DejaVu Sans'">e</tspan>
<tspan x="103.347949" y="-0.757812" style="font-size: 18px; font-family: 'DejaVu Sans'">r</tspan>
<tspan x="110.74834" y="-0.757812" style="font-size: 18px; font-family: 'DejaVu Sans'">g</tspan>
<tspan x="122.174121" y="-0.757812" style="font-size: 18px; font-family: 'DejaVu Sans'"> </tspan>
<tspan x="127.895801" y="-0.757812" style="font-size: 18px; font-family: 'DejaVu Sans'">s</tspan>
<tspan x="156.512109" y="-0.757812" style="font-size: 18px; font-family: 'DejaVu Sans'"> </tspan>
<tspan x="162.233789" y="-0.757812" style="font-size: 18px; font-family: 'DejaVu Sans'">c</tspan>
<tspan x="172.130273" y="-0.757812" style="font-size: 18px; font-family: 'DejaVu Sans'">m</tspan>
<tspan x="208.902832" y="-0.757812" style="font-size: 18px; font-family: 'DejaVu Sans'">]</tspan>
<tspan x="11.545312" y="-7.648438" style="font-size: 12.6px; font-family: 'DejaVu Sans'">2</tspan>
<tspan x="137.445996" y="-7.648438" style="font-size: 12.6px; font-family: 'DejaVu Sans'">−</tspan>
<tspan x="148.003418" y="-7.648438" style="font-size: 12.6px; font-family: 'DejaVu Sans'">1</tspan>
<tspan x="189.836719" y="-7.648438" style="font-size: 12.6px; font-family: 'DejaVu Sans'">−</tspan>
<tspan x="200.394141" y="-7.648438" style="font-size: 12.6px; font-family: 'DejaVu Sans'">2</tspan>
</text>
</g>
</g>
<g id="ts2">
<text style="font-size: 18px; font-family: 'DejaVu Sans'; text-anchor: start" x="443.210306" y="143.454039" transform="rotate(-90 443.210306 143.454039)">TS</text>
</g>
<g id="ts4">
<text style="font-size: 18px; font-family: 'DejaVu Sans'; text-anchor: start" x="443.210306" y="427.64624" transform="rotate(-90 443.210306 427.64624)">TS</text>
</g>
<g id="ylb" transform="translate(47.7716 1005.8496) scale(0.945 0.978) translate(-47.7716 -1005.8496)">
<g transform="translate(47.771588 1007.729805) rotate(-90)">
<text>
<tspan x="0" y="-0.757812" style="font-size: 18px; font-family: 'DejaVu Sans'">E</tspan>
<tspan x="11.373047" y="-0.757812" style="font-size: 18px; font-family: 'DejaVu Sans'">n</tspan>
<tspan x="22.78125" y="-0.757812" style="font-size: 18px; font-family: 'DejaVu Sans'">e</tspan>
<tspan x="33.855469" y="-0.757812" style="font-size: 18px; font-family: 'DejaVu Sans'">r</tspan>
<tspan x="41.255859" y="-0.757812" style="font-size: 18px; font-family: 'DejaVu Sans'">g</tspan>
<tspan x="52.681641" y="-0.757812" style="font-size: 18px; font-family: 'DejaVu Sans'">y</tspan>
<tspan x="63.333984" y="-0.757812" style="font-size: 18px; font-family: 'DejaVu Sans'"> </tspan>
<tspan x="69.055664" y="-0.757812" style="font-size: 18px; font-family: 'DejaVu Sans'">F</tspan>
<tspan x="79.40918" y="-0.757812" style="font-size: 18px; font-family: 'DejaVu Sans'">l</tspan>
<tspan x="84.410156" y="-0.757812" style="font-size: 18px; font-family: 'DejaVu Sans'">u</tspan>
<tspan x="95.818359" y="-0.757812" style="font-size: 18px; font-family: 'DejaVu Sans'">x</tspan>
<tspan x="106.470703" y="-0.757812" style="font-size: 18px; font-family: 'DejaVu Sans'"> </tspan>
<tspan x="112.192383" y="-0.757812" style="font-size: 18px; font-family: 'DejaVu Sans'">(</tspan>
<tspan x="119.214844" y="-0.757812" style="font-size: 18px; font-family: 'DejaVu Sans'">E</tspan>
<tspan x="139.268848" y="-0.757812" style="font-size: 18px; font-family: 'DejaVu Sans'"> </tspan>
<tspan x="144.990527" y="-0.757812" style="font-size: 18px; font-family: 'DejaVu Sans'">d</tspan>
<tspan x="156.416309" y="-0.757812" style="font-size: 18px; font-family: 'DejaVu Sans'">N</tspan>
<tspan x="169.881152" y="-0.757812" style="font-size: 18px; font-family: 'DejaVu Sans'">/</tspan>
<tspan x="175.945605" y="-0.757812" style="font-size: 18px; font-family: 'DejaVu Sans'">d</tspan>
<tspan x="187.371387" y="-0.757812" style="font-size: 18px; font-family: 'DejaVu Sans'">E</tspan>
<tspan x="198.744434" y="-0.757812" style="font-size: 18px; font-family: 'DejaVu Sans'">)</tspan>
<tspan x="205.766895" y="-0.757812" style="font-size: 18px; font-family: 'DejaVu Sans'"> </tspan>
<tspan x="211.488574" y="-0.757812" style="font-size: 18px; font-family: 'DejaVu Sans'">[</tspan>
<tspan x="218.511035" y="-0.757812" style="font-size: 18px; font-family: 'DejaVu Sans'">e</tspan>
<tspan x="229.585254" y="-0.757812" style="font-size: 18px; font-family: 'DejaVu Sans'">r</tspan>
<tspan x="236.985645" y="-0.757812" style="font-size: 18px; font-family: 'DejaVu Sans'">g</tspan>
<tspan x="248.411426" y="-0.757812" style="font-size: 18px; font-family: 'DejaVu Sans'"> </tspan>
<tspan x="254.133105" y="-0.757812" style="font-size: 18px; font-family: 'DejaVu Sans'">c</tspan>
<tspan x="264.02959" y="-0.757812" style="font-size: 18px; font-family: 'DejaVu Sans'">m</tspan>
<tspan x="300.802148" y="-0.757812" style="font-size: 18px; font-family: 'DejaVu Sans'"> </tspan>
<tspan x="306.523828" y="-0.757812" style="font-size: 18px; font-family: 'DejaVu Sans'">s</tspan>
<tspan x="335.140137" y="-0.757812" style="font-size: 18px; font-family: 'DejaVu Sans'">]</tspan>
<tspan x="130.760156" y="-7.648438" style="font-size: 12.6px; font-family: 'DejaVu Sans'">2</tspan>
<tspan x="281.736035" y="-7.648438" style="font-size: 12.6px; font-family: 'DejaVu Sans'">−</tspan>
<tspan x="292.293457" y="-7.648438" style="font-size: 12.6px; font-family: 'DejaVu Sans'">2</tspan>
<tspan x="316.074023" y="-7.648438" style="font-size: 12.6px; font-family: 'DejaVu Sans'">−</tspan>
<tspan x="326.631445" y="-7.648438" style="font-size: 12.6px; font-family: 'DejaVu Sans'">1</tspan>
</text>
</g>
</g>
</g>
<defs>
<clipPath id="p60db7b7a0c">
<rect x="100.626741" y="13.579387" width="318.245125" height="237.116992"/>
</clipPath>
<clipPath id="p26f865728c">
<rect x="100.626741" y="298.050139" width="318.245125" height="236.768802"/>
</clipPath>
<clipPath id="p133f93583e">
<rect x="482.24234" y="13.579387" width="318.245125" height="237.116992"/>
</clipPath>
<clipPath id="p6a8bd2c7d6">
<rect x="482.24234" y="298.050139" width="318.245125" height="236.768802"/>
</clipPath>
<clipPath id="p4bf6efa7c3">
<rect x="116.295265" y="597.493036" width="704.94429" height="487.221448"/>
</clipPath>
</defs>
</svg>

</body></html>
